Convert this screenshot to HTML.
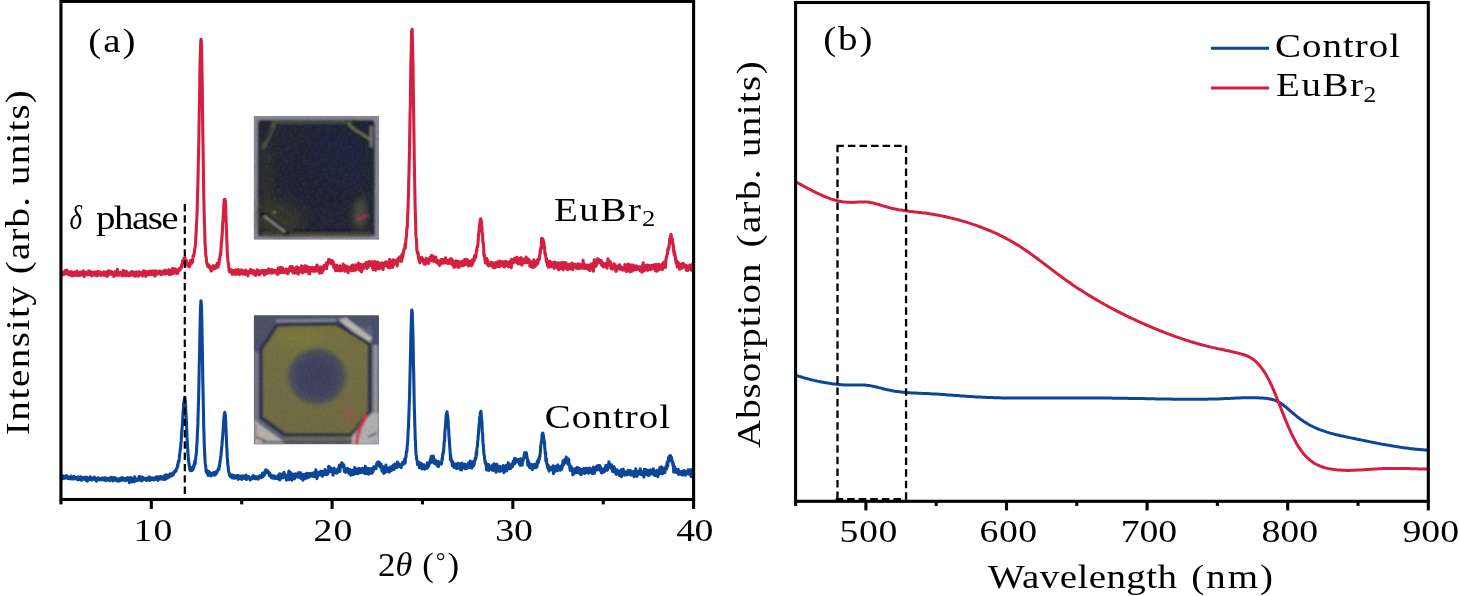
<!DOCTYPE html>
<html lang="en">
<head>
<meta charset="utf-8">
<title>XRD patterns and absorption spectra: Control vs EuBr2</title>
<style>
html,body{margin:0;padding:0;background:#fff;}
body{width:1459px;height:596px;overflow:hidden;font-family:"Liberation Serif", serif;}
svg{display:block;}
svg text{white-space:pre;}
</style>
</head>
<body>
<svg width="1459" height="596" viewBox="0 0 1459 596">
<rect width="1459" height="596" fill="#fff"/>
<g id="gfx">
<defs>
<filter id="b1" x="-5%" y="-5%" width="110%" height="110%"><feGaussianBlur stdDeviation="0.9"/></filter>
<filter id="b3" x="-100%" y="-100%" width="300%" height="300%"><feGaussianBlur stdDeviation="3"/></filter>
<filter id="b6" x="-100%" y="-100%" width="300%" height="300%"><feGaussianBlur stdDeviation="6"/></filter>
<filter id="grain" x="0" y="0" width="100%" height="100%">
<feTurbulence type="fractalNoise" baseFrequency="0.55" numOctaves="2" seed="4" result="n"/>
<feColorMatrix in="n" type="matrix" values="0 0 0 0 0.45  0 0 0 0 0.44  0 0 0 0 0.52  0.9 0 0 0 -0.25"/>
<feComposite in2="SourceGraphic" operator="in"/>
</filter>
<filter id="grain2" x="0" y="0" width="100%" height="100%">
<feTurbulence type="fractalNoise" baseFrequency="0.35" numOctaves="3" seed="9" result="n"/>
<feColorMatrix in="n" type="matrix" values="0 0 0 0 0.5  0 0 0 0 0.5  0 0 0 0 0.55  1.6 0 0 0 -0.62"/>
<feComposite in2="SourceGraphic" operator="in"/>
</filter>
<filter id="grain3" x="0" y="0" width="100%" height="100%">
<feTurbulence type="fractalNoise" baseFrequency="0.3" numOctaves="3" seed="21" result="n"/>
<feColorMatrix in="n" type="matrix" values="0 0 0 0 0.08  0 0 0 0 0.08  0 0 0 0 0.12  0 1.6 0 0 -0.62"/>
<feComposite in2="SourceGraphic" operator="in"/>
</filter>
<clipPath id="cp1"><rect x="253.6" y="116" width="125.6" height="123.8"/></clipPath>
<clipPath id="cp2"><rect x="253.8" y="315.2" width="125.2" height="129.2"/></clipPath>
<radialGradient id="blob" cx="0.5" cy="0.5" r="0.5">
<stop offset="0" stop-color="#3a3c58"/><stop offset="0.66" stop-color="#414360"/><stop offset="0.9" stop-color="#4a4d58" stop-opacity="0.85"/><stop offset="1" stop-color="#6a6a48" stop-opacity="0"/>
</radialGradient>
<linearGradient id="olv" x1="0" y1="0" x2="0" y2="1">
<stop offset="0" stop-color="#74733d"/><stop offset="0.55" stop-color="#706d45"/><stop offset="1" stop-color="#6f6b3e"/>
</linearGradient>
</defs>
<g id="photo1" clip-path="url(#cp1)">
<rect x="253.6" y="116" width="125.6" height="123.8" fill="#85838f"/>
<rect x="253.6" y="116" width="125.6" height="123.8" fill="#000" filter="url(#grain)" opacity="0.55"/>
<g filter="url(#b1)">
<rect x="258.2" y="120.2" width="116.2" height="116" rx="3" fill="#1e2029"/>
<rect x="260.5" y="122.5" width="111.5" height="111.5" rx="4" fill="#212431"/>
<ellipse cx="338" cy="160" rx="30" ry="34" fill="#1d2340" opacity="0.65" filter="url(#b6)"/>
<ellipse cx="282" cy="216" rx="24" ry="18" fill="#3e3c29" opacity="0.7" filter="url(#b6)"/>
<rect x="262" y="150" width="11" height="80" fill="#37382b" opacity="0.55" filter="url(#b3)"/>
<ellipse cx="305" cy="185" rx="28" ry="30" fill="#1c2032" opacity="0.5" filter="url(#b6)"/>
<ellipse cx="359.5" cy="215" rx="7" ry="14" fill="#53533a" opacity="0.8" filter="url(#b3)"/>
<ellipse cx="362" cy="202" rx="3.5" ry="8" fill="#5a5b48" opacity="0.5" filter="url(#b3)"/>
<line x1="357.5" y1="219.2" x2="367.2" y2="215.2" stroke="#b9304c" stroke-width="1.9" stroke-linecap="round"/>
<rect x="262" y="232.2" width="110" height="3.8" fill="#424232"/>
<line x1="292" y1="230.6" x2="351" y2="230.6" stroke="#0f121b" stroke-width="1.6"/>
<line x1="263" y1="214.5" x2="287" y2="233" stroke="#12151d" stroke-width="4.8" stroke-linecap="round"/>
<line x1="264.5" y1="216.6" x2="284.5" y2="231.6" stroke="#979c96" stroke-width="1.9" stroke-linecap="round"/>
<circle cx="274.3" cy="212.2" r="1.3" fill="#8a7a5a"/>
<line x1="272" y1="122.6" x2="352" y2="122.6" stroke="#50553f" stroke-width="2"/>
<line x1="263.6" y1="147" x2="273.8" y2="124.5" stroke="#4c523f" stroke-width="4.4" stroke-linecap="round"/>
<line x1="265.2" y1="141" x2="271.8" y2="127.5" stroke="#171c22" stroke-width="1.6" stroke-linecap="round"/>
<polyline points="348.5,124.2 355.5,130.2 361.5,133.6 366.5,137 369.5,139" fill="none" stroke="#747646" stroke-width="2.2" stroke-linecap="round" stroke-linejoin="round"/>
<ellipse cx="361.2" cy="128.6" rx="3" ry="2" fill="#18203a"/>
<line x1="371.2" y1="127" x2="371.2" y2="146" stroke="#7c7d78" stroke-width="2.4" stroke-linecap="round"/>
</g>
<rect x="253.6" y="116" width="125.6" height="123.8" fill="#000" filter="url(#grain2)" opacity="0.10"/>
<rect x="253.6" y="116" width="125.6" height="123.8" fill="#000" filter="url(#grain3)" opacity="0.14"/>
</g>
<g id="photo2" clip-path="url(#cp2)">
<rect x="253.8" y="315.2" width="125.2" height="129.2" fill="#5f6178"/>
<g filter="url(#b1)">
<rect x="253.8" y="315.2" width="125.2" height="12" fill="#4e5168"/>
<polygon points="253.8,315.2 282,315.2 259.5,352 253.8,352" fill="#4b4f66"/>
<rect x="254.4" y="352" width="3.8" height="70" fill="#74778c"/>
<rect x="372" y="318" width="7" height="28" fill="#474c6e"/>
<rect x="373.4" y="345" width="4.4" height="70" fill="#96969e"/>
<polygon points="276,319.4 336,319 336,322.4 276,322.8" fill="#83859a"/>
<polygon points="338.5,319.6 346,317.8 372,337.5 369,344.5" fill="#bab8b3"/>
<polygon points="254.2,420 284,441.5 284,444.4 254.2,444.4" fill="#b4b2ab"/>
<polygon points="371.5,413 379,413 379,444.4 351,444.4 351.5,437" fill="#b3b0b2"/>
<rect x="284" y="436.3" width="68" height="5" fill="#6c6b54"/>
<line x1="262" y1="442" x2="352" y2="442" stroke="#3a3d55" stroke-width="1.6"/>
<polygon points="261,349 277.5,324.6 336.5,323.6 369.6,344 369.6,411.6 350.8,434.7 284.7,434.7 261,417.4" fill="url(#olv)" stroke="#2c2e44" stroke-width="3.6" stroke-linejoin="round"/>
<ellipse cx="300" cy="338" rx="22" ry="9" fill="#838035" opacity="0.45" filter="url(#b3)"/>
<ellipse cx="345" cy="425" rx="16" ry="7" fill="#6f6c40" opacity="0.6" filter="url(#b3)"/>
<ellipse cx="317" cy="376.6" rx="31" ry="30" fill="url(#blob)" filter="url(#b1)"/>
<ellipse cx="349.5" cy="414" rx="4.5" ry="9" fill="#b8475a" opacity="0.45" filter="url(#b3)"/>
<polyline points="366.2,415.5 360.5,427 357.5,436 356.6,443.5" fill="none" stroke="#c93350" stroke-width="3.4" stroke-linecap="round" stroke-linejoin="round"/>
<line x1="255.5" y1="424" x2="256.5" y2="440" stroke="#c03a55" stroke-width="1.2" opacity="0.7"/>
<line x1="368" y1="437" x2="377" y2="433" stroke="#3c4060" stroke-width="1.4"/>
<line x1="256" y1="437" x2="266" y2="441" stroke="#4a4d60" stroke-width="1.4"/>
</g>
<rect x="253.8" y="315.2" width="125.2" height="129.2" fill="#000" filter="url(#grain2)" opacity="0.09"/>
<rect x="253.8" y="315.2" width="125.2" height="129.2" fill="#000" filter="url(#grain3)" opacity="0.12"/>
</g>

<g fill="none" stroke-linejoin="round" stroke-linecap="butt">
<polyline id="xrd-red" stroke="#d41f40" stroke-width="3.1" points="61.0,273.5 61.2,273.7 61.4,273.0 61.6,272.1 61.9,272.6 62.1,272.0 62.3,273.3 62.5,275.1 62.8,272.9 63.0,272.5 63.2,273.9 63.4,273.9 63.7,273.6 63.9,272.2 64.1,273.2 64.3,274.3 64.6,271.7 64.8,272.6 65.0,270.8 65.2,271.4 65.5,270.8 65.7,272.8 65.9,271.7 66.1,273.6 66.4,273.7 66.6,273.2 66.8,270.1 67.1,272.4 67.3,273.3 67.5,273.6 67.7,271.5 68.0,272.6 68.2,272.1 68.4,272.3 68.6,274.7 68.9,272.6 69.1,273.3 69.3,274.6 69.5,272.8 69.8,273.2 70.0,273.6 70.2,273.6 70.4,271.9 70.7,273.4 70.9,275.3 71.1,271.7 71.3,274.4 71.6,273.8 71.8,272.7 72.0,276.0 72.2,274.8 72.5,272.1 72.7,273.4 72.9,274.3 73.2,273.4 73.4,274.4 73.6,273.5 73.8,274.4 74.1,275.5 74.3,272.9 74.5,273.7 74.7,273.0 75.0,273.7 75.2,272.0 75.4,272.6 75.6,273.2 75.9,274.7 76.1,275.2 76.3,272.0 76.5,272.3 76.8,274.3 77.0,271.1 77.2,272.7 77.4,273.4 77.7,275.2 77.9,274.7 78.1,273.3 78.3,273.1 78.6,273.2 78.8,275.6 79.0,273.3 79.3,273.2 79.5,274.0 79.7,273.5 79.9,273.3 80.2,272.1 80.4,273.5 80.6,273.1 80.8,275.1 81.1,274.7 81.3,273.7 81.5,274.5 81.7,273.3 82.0,275.0 82.2,273.8 82.4,274.4 82.6,272.1 82.9,273.9 83.1,271.5 83.3,270.8 83.5,273.0 83.8,272.5 84.0,273.8 84.2,276.6 84.4,272.9 84.7,272.7 84.9,273.9 85.1,274.4 85.4,273.5 85.6,273.4 85.8,274.6 86.0,274.5 86.3,272.4 86.5,273.4 86.7,273.7 86.9,272.3 87.2,273.9 87.4,272.6 87.6,274.9 87.8,274.1 88.1,273.9 88.3,273.0 88.5,273.5 88.7,271.1 89.0,272.0 89.2,274.0 89.4,271.0 89.6,274.5 89.9,271.6 90.1,274.5 90.3,272.7 90.5,274.6 90.8,274.0 91.0,271.8 91.2,275.2 91.5,275.8 91.7,273.9 91.9,273.4 92.1,273.5 92.4,272.5 92.6,275.0 92.8,273.2 93.0,273.6 93.3,272.7 93.5,272.8 93.7,272.0 93.9,275.2 94.2,273.7 94.4,275.0 94.6,273.9 94.8,272.9 95.1,273.2 95.3,273.0 95.5,273.7 95.7,273.3 96.0,273.3 96.2,271.9 96.4,272.5 96.6,275.8 96.9,273.1 97.1,272.3 97.3,274.1 97.6,275.7 97.8,272.1 98.0,273.3 98.2,272.9 98.5,271.4 98.7,274.5 98.9,273.9 99.1,273.9 99.4,272.8 99.6,274.3 99.8,273.2 100.0,273.5 100.3,272.3 100.5,272.1 100.7,275.4 100.9,273.3 101.2,274.1 101.4,273.8 101.6,273.2 101.8,273.1 102.1,274.6 102.3,273.5 102.5,273.6 102.8,273.8 103.0,275.3 103.2,274.9 103.4,274.4 103.7,273.1 103.9,271.9 104.1,274.8 104.3,275.2 104.6,273.8 104.8,274.5 105.0,274.9 105.2,275.0 105.5,275.1 105.7,273.4 105.9,275.7 106.1,272.4 106.4,274.8 106.6,274.6 106.8,275.0 107.0,276.4 107.3,276.0 107.5,272.5 107.7,271.4 107.9,274.6 108.2,272.6 108.4,273.7 108.6,274.9 108.9,271.8 109.1,270.8 109.3,273.8 109.5,273.9 109.8,273.5 110.0,273.8 110.2,272.7 110.4,271.7 110.7,273.4 110.9,272.5 111.1,271.5 111.3,274.2 111.6,273.8 111.8,274.3 112.0,272.6 112.2,272.8 112.5,272.4 112.7,272.5 112.9,273.9 113.1,272.8 113.4,274.2 113.6,274.3 113.8,276.5 114.0,272.3 114.3,274.8 114.5,273.8 114.7,273.8 115.0,271.9 115.2,273.0 115.4,274.7 115.6,273.8 115.9,273.9 116.1,273.4 116.3,275.3 116.5,273.9 116.8,270.9 117.0,272.6 117.2,271.1 117.4,269.3 117.7,272.6 117.9,275.4 118.1,274.0 118.3,272.3 118.6,272.4 118.8,275.1 119.0,274.1 119.2,273.9 119.5,273.7 119.7,273.8 119.9,274.8 120.1,274.6 120.4,274.1 120.6,272.4 120.8,274.3 121.1,272.9 121.3,275.1 121.5,272.3 121.7,273.4 122.0,273.7 122.2,272.0 122.4,275.8 122.6,275.9 122.9,273.4 123.1,274.7 123.3,274.3 123.5,270.4 123.8,273.7 124.0,273.7 124.2,273.8 124.4,272.3 124.7,273.2 124.9,273.5 125.1,275.2 125.3,274.3 125.6,273.8 125.8,275.7 126.0,273.2 126.2,273.1 126.5,271.3 126.7,275.5 126.9,275.2 127.2,275.0 127.4,274.7 127.6,273.9 127.8,274.0 128.1,273.4 128.3,273.4 128.5,273.7 128.7,275.7 129.0,274.6 129.2,273.7 129.4,272.9 129.6,272.8 129.9,275.7 130.1,274.6 130.3,273.8 130.5,273.2 130.8,272.2 131.0,273.4 131.2,274.8 131.4,273.3 131.7,273.3 131.9,273.3 132.1,273.7 132.3,271.6 132.6,273.1 132.8,272.5 133.0,274.6 133.3,272.7 133.5,274.3 133.7,275.7 133.9,273.4 134.2,272.8 134.4,273.8 134.6,273.6 134.8,272.3 135.1,274.0 135.3,276.3 135.5,273.5 135.7,273.3 136.0,272.2 136.2,273.8 136.4,272.0 136.6,271.9 136.9,275.1 137.1,272.6 137.3,274.8 137.5,275.7 137.8,274.1 138.0,274.3 138.2,276.2 138.4,273.5 138.7,272.7 138.9,271.7 139.1,273.4 139.4,275.4 139.6,275.0 139.8,272.4 140.0,272.2 140.3,272.7 140.5,273.8 140.7,273.3 140.9,273.7 141.2,273.9 141.4,273.1 141.6,273.4 141.8,273.7 142.1,273.4 142.3,274.1 142.5,276.0 142.7,274.5 143.0,273.6 143.2,271.2 143.4,273.7 143.6,270.9 143.9,271.3 144.1,274.3 144.3,274.4 144.6,273.3 144.8,271.1 145.0,272.6 145.2,272.4 145.5,274.1 145.7,276.4 145.9,274.0 146.1,272.4 146.4,271.7 146.6,273.1 146.8,273.1 147.0,271.8 147.3,273.3 147.5,271.8 147.7,274.6 147.9,274.9 148.2,274.9 148.4,272.8 148.6,273.9 148.8,273.2 149.1,272.7 149.3,272.8 149.5,271.5 149.7,271.2 150.0,274.1 150.2,273.1 150.4,273.5 150.7,274.6 150.9,271.1 151.1,271.9 151.3,273.3 151.6,273.7 151.8,272.8 152.0,274.5 152.2,273.6 152.5,271.6 152.7,271.8 152.9,274.1 153.1,273.9 153.4,270.7 153.6,274.6 153.8,274.1 154.0,275.0 154.3,272.8 154.5,272.7 154.7,271.6 154.9,276.2 155.2,273.2 155.4,275.1 155.6,272.5 155.8,273.2 156.1,270.9 156.3,272.3 156.5,274.3 156.8,271.5 157.0,274.2 157.2,273.6 157.4,271.7 157.7,272.2 157.9,272.3 158.1,272.8 158.3,272.3 158.6,271.8 158.8,272.4 159.0,271.5 159.2,271.1 159.5,272.7 159.7,274.0 159.9,271.0 160.1,272.7 160.4,272.0 160.6,271.5 160.8,273.8 161.0,272.3 161.3,274.7 161.5,272.0 161.7,273.2 161.9,272.5 162.2,271.8 162.4,273.4 162.6,272.6 162.9,273.5 163.1,272.8 163.3,271.3 163.5,272.4 163.8,272.7 164.0,273.9 164.2,271.6 164.4,272.5 164.7,270.4 164.9,273.2 165.1,271.3 165.3,270.1 165.6,272.2 165.8,274.0 166.0,270.7 166.2,270.9 166.5,271.4 166.7,270.9 166.9,272.8 167.1,271.5 167.4,271.4 167.6,273.1 167.8,271.5 168.0,272.9 168.3,271.2 168.5,270.6 168.7,269.8 169.0,274.5 169.2,272.2 169.4,272.6 169.6,272.3 169.9,272.4 170.1,272.3 170.3,274.7 170.5,271.1 170.8,270.0 171.0,270.6 171.2,270.2 171.4,272.9 171.7,273.2 171.9,270.9 172.1,270.0 172.3,271.3 172.6,273.7 172.8,268.4 173.0,272.2 173.2,270.5 173.5,273.0 173.7,270.5 173.9,271.2 174.1,269.7 174.4,270.2 174.6,273.3 174.8,272.9 175.1,271.1 175.3,270.3 175.5,268.9 175.7,270.6 176.0,271.3 176.2,271.2 176.4,271.1 176.6,269.7 176.9,270.9 177.1,271.0 177.3,272.7 177.5,273.6 177.8,271.0 178.0,269.8 178.2,270.5 178.4,269.8 178.7,269.5 178.9,270.2 179.1,268.9 179.3,270.8 179.6,270.0 179.8,270.1 180.0,269.4 180.2,268.4 180.5,267.7 180.7,268.3 180.9,267.6 181.2,268.2 181.4,267.5 181.6,265.1 181.8,266.2 182.1,263.9 182.3,263.9 182.5,263.7 182.7,260.6 183.0,262.4 183.2,262.0 183.4,260.9 183.6,259.8 183.9,259.2 184.1,258.0 184.3,258.6 184.5,258.2 184.8,259.1 185.0,257.7 185.2,259.8 185.4,260.3 185.7,260.5 185.9,260.7 186.1,262.5 186.4,260.4 186.6,263.4 186.8,264.0 187.0,264.5 187.3,265.0 187.5,264.0 187.7,264.6 187.9,266.1 188.2,266.1 188.4,265.8 188.6,263.5 188.8,265.9 189.1,266.9 189.3,266.7 189.5,265.5 189.7,262.8 190.0,265.5 190.2,264.2 190.4,260.6 190.6,263.7 190.9,261.3 191.1,260.9 191.3,261.4 191.5,263.5 191.8,261.1 192.0,261.2 192.2,262.6 192.5,262.0 192.7,259.1 192.9,258.0 193.1,255.8 193.4,255.6 193.6,256.2 193.8,255.3 194.0,253.7 194.3,253.6 194.5,250.0 194.7,249.1 194.9,248.4 195.2,246.3 195.4,244.6 195.6,241.2 195.8,237.2 196.1,234.5 196.3,229.0 196.5,223.5 196.7,221.3 197.0,215.1 197.2,209.1 197.4,199.4 197.6,192.8 197.9,183.9 198.1,173.7 198.3,161.3 198.6,152.1 198.8,141.7 199.0,128.3 199.2,113.5 199.5,100.5 199.7,88.1 199.9,70.6 200.1,61.7 200.4,52.8 200.6,45.2 200.8,41.6 201.0,39.3 201.3,40.2 201.5,46.2 201.7,56.4 201.9,67.3 202.2,82.4 202.4,99.7 202.6,118.0 202.8,132.2 203.1,148.5 203.3,164.5 203.5,180.6 203.7,192.4 204.0,206.1 204.2,213.7 204.4,223.5 204.7,231.4 204.9,239.3 205.1,245.2 205.3,246.4 205.6,250.4 205.8,255.1 206.0,256.3 206.2,256.9 206.5,261.6 206.7,262.5 206.9,263.4 207.1,262.9 207.4,265.4 207.6,264.5 207.8,266.5 208.0,264.5 208.3,264.6 208.5,266.3 208.7,265.5 208.9,267.4 209.2,267.3 209.4,265.9 209.6,267.2 209.8,266.9 210.1,268.7 210.3,266.9 210.5,267.1 210.8,269.4 211.0,271.0 211.2,270.9 211.4,268.4 211.7,268.4 211.9,270.1 212.1,268.2 212.3,266.8 212.6,268.1 212.8,268.7 213.0,267.1 213.2,265.8 213.5,265.9 213.7,268.6 213.9,267.0 214.1,267.5 214.4,268.0 214.6,268.5 214.8,267.2 215.0,268.0 215.3,266.2 215.5,266.5 215.7,265.6 215.9,268.1 216.2,266.7 216.4,265.4 216.6,265.5 216.9,265.5 217.1,266.4 217.3,263.2 217.5,263.2 217.8,263.7 218.0,267.2 218.2,265.0 218.4,262.8 218.7,263.1 218.9,264.2 219.1,260.6 219.3,259.1 219.6,260.1 219.8,258.2 220.0,257.0 220.2,254.0 220.5,255.4 220.7,253.6 220.9,250.1 221.1,247.8 221.4,241.8 221.6,242.2 221.8,238.6 222.0,236.2 222.3,233.2 222.5,228.3 222.7,222.7 223.0,221.3 223.2,216.3 223.4,212.8 223.6,208.7 223.9,205.6 224.1,200.0 224.3,201.8 224.5,199.3 224.8,199.3 225.0,200.6 225.2,200.0 225.4,201.0 225.7,206.9 225.9,212.7 226.1,220.1 226.3,227.6 226.6,231.4 226.8,240.3 227.0,243.7 227.2,250.6 227.5,254.5 227.7,257.6 227.9,260.7 228.2,262.4 228.4,264.1 228.6,264.1 228.8,267.2 229.1,270.7 229.3,271.7 229.5,271.4 229.7,270.9 230.0,269.3 230.2,272.1 230.4,270.7 230.6,270.6 230.9,270.5 231.1,271.1 231.3,270.6 231.5,271.1 231.8,269.9 232.0,270.8 232.2,274.4 232.4,271.8 232.7,271.3 232.9,272.4 233.1,272.8 233.3,270.5 233.6,271.5 233.8,273.1 234.0,272.5 234.3,272.2 234.5,274.1 234.7,271.4 234.9,272.1 235.2,271.5 235.4,274.1 235.6,269.9 235.8,271.1 236.1,271.5 236.3,273.1 236.5,273.2 236.7,274.2 237.0,270.5 237.2,273.1 237.4,272.1 237.6,271.5 237.9,273.0 238.1,271.3 238.3,269.6 238.5,271.7 238.8,270.5 239.0,271.4 239.2,272.9 239.4,273.0 239.7,274.6 239.9,272.5 240.1,270.5 240.4,271.3 240.6,271.2 240.8,270.8 241.0,272.9 241.3,271.8 241.5,269.9 241.7,273.2 241.9,272.5 242.2,273.0 242.4,272.7 242.6,273.4 242.8,272.7 243.1,274.2 243.3,273.3 243.5,273.1 243.7,273.1 244.0,270.7 244.2,272.1 244.4,272.2 244.6,272.8 244.9,270.8 245.1,274.5 245.3,272.9 245.5,271.0 245.8,270.1 246.0,271.9 246.2,272.4 246.5,271.6 246.7,272.5 246.9,271.7 247.1,273.1 247.4,271.6 247.6,272.3 247.8,273.8 248.0,276.0 248.3,271.5 248.5,271.7 248.7,271.3 248.9,273.4 249.2,271.1 249.4,271.7 249.6,272.3 249.8,271.2 250.1,271.0 250.3,271.7 250.5,269.6 250.7,270.2 251.0,271.7 251.2,272.5 251.4,272.2 251.6,270.0 251.9,271.5 252.1,273.3 252.3,273.2 252.6,272.3 252.8,271.2 253.0,273.0 253.2,271.7 253.5,270.7 253.7,271.1 253.9,274.1 254.1,272.8 254.4,273.8 254.6,271.8 254.8,273.4 255.0,271.6 255.3,272.0 255.5,275.5 255.7,273.6 255.9,271.7 256.2,272.0 256.4,272.6 256.6,273.8 256.8,271.7 257.1,269.8 257.3,271.5 257.5,272.1 257.7,272.3 258.0,273.9 258.2,272.7 258.4,273.2 258.7,270.8 258.9,273.1 259.1,274.9 259.3,273.4 259.6,272.5 259.8,272.3 260.0,274.4 260.2,271.1 260.5,271.7 260.7,272.6 260.9,273.0 261.1,271.5 261.4,272.3 261.6,271.6 261.8,272.0 262.0,271.8 262.3,270.4 262.5,271.7 262.7,273.0 262.9,270.7 263.2,271.4 263.4,272.7 263.6,270.5 263.8,271.9 264.1,270.5 264.3,273.1 264.5,275.0 264.8,274.7 265.0,271.8 265.2,272.7 265.4,272.0 265.7,271.9 265.9,273.7 266.1,270.2 266.3,272.9 266.6,271.8 266.8,273.5 267.0,272.1 267.2,270.8 267.5,271.9 267.7,272.6 267.9,271.7 268.1,272.2 268.4,271.0 268.6,268.7 268.8,272.4 269.0,272.6 269.3,271.8 269.5,271.6 269.7,272.8 270.0,271.0 270.2,270.5 270.4,271.1 270.6,273.0 270.9,269.8 271.1,272.8 271.3,270.7 271.5,269.9 271.8,272.9 272.0,271.4 272.2,269.6 272.4,270.7 272.7,272.5 272.9,273.0 273.1,270.9 273.3,271.7 273.6,272.2 273.8,270.5 274.0,271.6 274.2,271.2 274.5,270.5 274.7,270.5 274.9,271.2 275.1,271.2 275.4,270.4 275.6,270.5 275.8,272.5 276.1,271.5 276.3,272.3 276.5,272.8 276.7,272.0 277.0,274.1 277.2,270.3 277.4,272.0 277.6,270.7 277.9,274.1 278.1,274.2 278.3,268.0 278.5,268.9 278.8,271.9 279.0,272.4 279.2,272.3 279.4,270.9 279.7,271.7 279.9,272.1 280.1,270.9 280.3,272.6 280.6,267.2 280.8,271.5 281.0,269.2 281.2,272.2 281.5,270.6 281.7,269.2 281.9,271.2 282.2,269.3 282.4,269.0 282.6,267.9 282.8,270.4 283.1,271.5 283.3,272.5 283.5,270.6 283.7,272.4 284.0,270.9 284.2,270.5 284.4,271.6 284.6,272.5 284.9,270.2 285.1,270.1 285.3,270.2 285.5,270.7 285.8,269.0 286.0,272.1 286.2,270.0 286.4,271.2 286.7,269.2 286.9,270.9 287.1,271.2 287.3,269.8 287.6,273.8 287.8,271.5 288.0,273.5 288.3,272.4 288.5,269.4 288.7,269.6 288.9,271.0 289.2,270.6 289.4,270.4 289.6,269.9 289.8,267.2 290.1,269.6 290.3,266.5 290.5,270.5 290.7,269.1 291.0,268.9 291.2,269.7 291.4,270.7 291.6,267.8 291.9,267.0 292.1,268.1 292.3,266.5 292.5,268.2 292.8,272.7 293.0,268.7 293.2,271.1 293.4,267.9 293.7,270.4 293.9,269.6 294.1,270.0 294.4,271.1 294.6,273.2 294.8,270.8 295.0,270.3 295.3,268.4 295.5,270.9 295.7,269.7 295.9,271.4 296.2,270.1 296.4,273.0 296.6,266.9 296.8,269.1 297.1,271.4 297.3,269.5 297.5,268.5 297.7,269.4 298.0,267.5 298.2,269.9 298.4,274.1 298.6,272.3 298.9,268.2 299.1,268.2 299.3,269.0 299.5,271.5 299.8,268.7 300.0,268.5 300.2,271.2 300.5,271.5 300.7,269.4 300.9,267.8 301.1,267.0 301.4,268.3 301.6,265.9 301.8,270.6 302.0,268.8 302.3,270.5 302.5,273.0 302.7,272.1 302.9,268.0 303.2,271.0 303.4,271.9 303.6,268.7 303.8,267.9 304.1,269.3 304.3,266.9 304.5,271.9 304.7,265.8 305.0,267.3 305.2,269.0 305.4,269.2 305.6,269.9 305.9,270.1 306.1,269.3 306.3,271.5 306.6,266.1 306.8,269.2 307.0,268.4 307.2,269.7 307.5,270.0 307.7,268.0 307.9,268.3 308.1,270.8 308.4,270.3 308.6,268.4 308.8,272.9 309.0,273.8 309.3,267.4 309.5,269.7 309.7,273.8 309.9,271.3 310.2,270.0 310.4,269.1 310.6,268.5 310.8,268.9 311.1,268.4 311.3,270.6 311.5,268.8 311.8,268.5 312.0,267.2 312.2,269.0 312.4,267.8 312.7,268.9 312.9,271.1 313.1,270.1 313.3,270.2 313.6,270.0 313.8,269.4 314.0,269.1 314.2,268.7 314.5,270.5 314.7,267.5 314.9,271.3 315.1,269.5 315.4,267.9 315.6,268.2 315.8,267.9 316.0,269.3 316.3,268.0 316.5,271.0 316.7,268.0 316.9,265.1 317.2,267.4 317.4,265.5 317.6,268.6 317.9,270.9 318.1,270.4 318.3,266.9 318.5,267.5 318.8,271.9 319.0,269.9 319.2,269.0 319.4,270.8 319.7,273.3 319.9,271.6 320.1,269.4 320.3,269.5 320.6,270.0 320.8,267.9 321.0,266.9 321.2,268.7 321.5,267.2 321.7,268.5 321.9,268.9 322.1,272.7 322.4,267.6 322.6,268.2 322.8,268.3 323.0,269.2 323.3,270.4 323.5,267.8 323.7,266.9 324.0,265.3 324.2,266.3 324.4,268.8 324.6,268.2 324.9,266.1 325.1,266.9 325.3,267.5 325.5,268.2 325.8,266.2 326.0,266.3 326.2,263.5 326.4,264.0 326.7,268.6 326.9,262.3 327.1,264.3 327.3,265.3 327.6,264.0 327.8,262.7 328.0,263.5 328.2,263.3 328.5,262.7 328.7,259.2 328.9,261.5 329.1,260.2 329.4,260.3 329.6,261.4 329.8,262.1 330.1,262.5 330.3,260.1 330.5,262.3 330.7,263.1 331.0,263.2 331.2,263.9 331.4,261.6 331.6,261.6 331.9,263.6 332.1,260.5 332.3,263.2 332.5,262.6 332.8,263.2 333.0,261.3 333.2,262.9 333.4,264.9 333.7,267.0 333.9,267.7 334.1,266.2 334.3,266.1 334.6,265.3 334.8,267.5 335.0,266.8 335.2,268.3 335.5,270.6 335.7,267.9 335.9,265.2 336.2,266.1 336.4,265.3 336.6,265.7 336.8,270.1 337.1,268.8 337.3,265.6 337.5,269.0 337.7,270.5 338.0,267.9 338.2,267.0 338.4,267.5 338.6,268.7 338.9,269.4 339.1,270.4 339.3,270.6 339.5,270.5 339.8,270.8 340.0,269.6 340.2,265.8 340.4,267.7 340.7,268.7 340.9,267.6 341.1,269.7 341.3,267.8 341.6,266.6 341.8,270.5 342.0,269.6 342.3,268.7 342.5,269.8 342.7,270.2 342.9,269.0 343.2,264.0 343.4,266.5 343.6,267.2 343.8,266.4 344.1,268.3 344.3,270.2 344.5,267.5 344.7,266.1 345.0,271.3 345.2,267.7 345.4,265.9 345.6,268.2 345.9,268.8 346.1,266.9 346.3,269.2 346.5,267.3 346.8,266.3 347.0,268.1 347.2,269.3 347.5,267.0 347.7,268.4 347.9,267.9 348.1,272.8 348.4,267.3 348.6,270.2 348.8,268.1 349.0,267.7 349.3,269.1 349.5,269.5 349.7,270.2 349.9,268.7 350.2,266.9 350.4,266.8 350.6,268.6 350.8,268.9 351.1,270.3 351.3,268.8 351.5,269.7 351.7,270.6 352.0,268.3 352.2,265.2 352.4,265.4 352.6,265.0 352.9,270.2 353.1,266.5 353.3,269.6 353.6,268.9 353.8,270.7 354.0,269.7 354.2,267.6 354.5,267.2 354.7,267.7 354.9,267.9 355.1,266.7 355.4,267.4 355.6,270.3 355.8,264.9 356.0,267.6 356.3,266.0 356.5,267.6 356.7,268.9 356.9,267.5 357.2,268.7 357.4,264.8 357.6,269.0 357.8,266.6 358.1,268.3 358.3,267.8 358.5,263.0 358.7,265.5 359.0,267.5 359.2,270.0 359.4,268.1 359.7,267.8 359.9,264.9 360.1,269.4 360.3,270.6 360.6,267.6 360.8,266.8 361.0,264.3 361.2,268.3 361.5,271.9 361.7,268.8 361.9,269.4 362.1,268.2 362.4,265.4 362.6,269.1 362.8,265.1 363.0,266.3 363.3,267.3 363.5,268.4 363.7,267.7 363.9,267.5 364.2,265.4 364.4,264.2 364.6,266.4 364.8,265.2 365.1,264.0 365.3,263.8 365.5,265.0 365.8,262.7 366.0,263.2 366.2,262.7 366.4,265.6 366.7,266.2 366.9,268.8 367.1,262.9 367.3,263.5 367.6,266.2 367.8,264.5 368.0,263.9 368.2,267.3 368.5,264.0 368.7,262.2 368.9,261.7 369.1,264.4 369.4,264.7 369.6,261.8 369.8,262.2 370.0,265.0 370.3,265.4 370.5,263.4 370.7,265.5 370.9,265.7 371.2,261.8 371.4,264.0 371.6,265.7 371.9,264.2 372.1,261.5 372.3,264.5 372.5,266.7 372.8,268.4 373.0,262.2 373.2,269.8 373.4,264.3 373.7,267.3 373.9,268.2 374.1,267.8 374.3,266.4 374.6,264.0 374.8,266.8 375.0,264.9 375.2,261.5 375.5,270.3 375.7,267.7 375.9,269.2 376.1,264.7 376.4,268.3 376.6,268.9 376.8,268.8 377.0,266.1 377.3,263.8 377.5,265.3 377.7,262.0 378.0,262.5 378.2,265.6 378.4,264.1 378.6,265.2 378.9,265.5 379.1,268.9 379.3,268.2 379.5,265.8 379.8,267.7 380.0,264.5 380.2,264.8 380.4,267.0 380.7,263.5 380.9,264.8 381.1,263.1 381.3,265.4 381.6,268.2 381.8,264.4 382.0,265.6 382.2,263.8 382.5,263.1 382.7,262.9 382.9,267.5 383.1,269.5 383.4,266.4 383.6,264.0 383.8,266.2 384.1,264.6 384.3,266.3 384.5,265.6 384.7,265.5 385.0,266.0 385.2,264.0 385.4,264.1 385.6,261.8 385.9,263.7 386.1,262.2 386.3,264.2 386.5,263.0 386.8,264.6 387.0,265.4 387.2,262.2 387.4,262.8 387.7,262.7 387.9,265.5 388.1,267.4 388.3,266.1 388.6,263.9 388.8,266.7 389.0,261.9 389.3,266.4 389.5,263.3 389.7,259.2 389.9,268.0 390.2,267.1 390.4,262.4 390.6,263.9 390.8,263.4 391.1,263.8 391.3,261.1 391.5,262.1 391.7,264.2 392.0,263.9 392.2,265.5 392.4,263.7 392.6,267.3 392.9,262.4 393.1,263.4 393.3,259.8 393.5,260.4 393.8,264.9 394.0,261.4 394.2,263.4 394.4,262.5 394.7,260.7 394.9,261.6 395.1,261.3 395.4,261.2 395.6,263.2 395.8,263.2 396.0,260.9 396.3,260.0 396.5,261.9 396.7,261.3 396.9,263.0 397.2,265.9 397.4,262.9 397.6,260.9 397.8,260.4 398.1,259.0 398.3,258.6 398.5,258.2 398.7,259.1 399.0,258.9 399.2,260.7 399.4,258.8 399.6,258.7 399.9,256.7 400.1,261.1 400.3,259.5 400.5,261.2 400.8,259.4 401.0,260.1 401.2,256.9 401.5,257.9 401.7,261.1 401.9,254.3 402.1,257.3 402.4,258.2 402.6,255.6 402.8,255.4 403.0,255.8 403.3,252.0 403.5,252.9 403.7,250.2 403.9,249.5 404.2,248.9 404.4,248.8 404.6,248.5 404.8,248.0 405.1,243.7 405.3,248.0 405.5,245.8 405.7,243.2 406.0,239.5 406.2,237.7 406.4,236.5 406.6,233.7 406.9,227.0 407.1,227.4 407.3,227.7 407.6,215.3 407.8,214.2 408.0,207.9 408.2,200.4 408.5,195.5 408.7,183.1 408.9,175.9 409.1,168.4 409.4,154.8 409.6,142.3 409.8,130.6 410.0,116.5 410.3,106.2 410.5,88.4 410.7,77.4 410.9,61.2 411.2,52.6 411.4,42.1 411.6,30.6 411.8,30.9 412.1,29.2 412.3,33.7 412.5,44.7 412.7,51.0 413.0,63.8 413.2,83.2 413.4,97.4 413.7,116.3 413.9,130.9 414.1,144.6 414.3,161.0 414.6,177.5 414.8,190.0 415.0,199.8 415.2,209.7 415.5,218.1 415.7,224.7 415.9,235.3 416.1,237.5 416.4,239.4 416.6,243.8 416.8,248.8 417.0,251.2 417.3,251.6 417.5,251.9 417.7,254.2 417.9,252.3 418.2,253.4 418.4,257.9 418.6,256.6 418.8,258.3 419.1,260.4 419.3,259.9 419.5,259.0 419.8,262.9 420.0,261.0 420.2,259.2 420.4,261.1 420.7,261.0 420.9,258.9 421.1,260.4 421.3,260.4 421.6,257.3 421.8,260.2 422.0,260.5 422.2,260.4 422.5,258.3 422.7,260.4 422.9,261.4 423.1,261.7 423.4,259.7 423.6,262.6 423.8,259.8 424.0,261.2 424.3,264.2 424.5,261.0 424.7,261.0 424.9,263.8 425.2,261.6 425.4,261.5 425.6,262.4 425.9,263.9 426.1,258.3 426.3,260.1 426.5,260.0 426.8,259.8 427.0,260.1 427.2,260.1 427.4,261.9 427.7,259.9 427.9,261.3 428.1,261.9 428.3,259.7 428.6,260.8 428.8,263.4 429.0,261.2 429.2,259.0 429.5,259.5 429.7,257.9 429.9,259.5 430.1,260.5 430.4,257.4 430.6,257.8 430.8,260.0 431.1,257.2 431.3,257.8 431.5,255.6 431.7,255.6 432.0,256.1 432.2,260.7 432.4,256.8 432.6,256.1 432.9,256.1 433.1,256.9 433.3,258.6 433.5,258.1 433.8,261.5 434.0,259.0 434.2,261.0 434.4,259.6 434.7,260.2 434.9,257.1 435.1,259.3 435.3,260.0 435.6,260.0 435.8,257.0 436.0,262.1 436.2,260.8 436.5,260.7 436.7,261.3 436.9,261.6 437.2,262.9 437.4,260.3 437.6,260.7 437.8,263.0 438.1,263.1 438.3,262.3 438.5,262.0 438.7,261.5 439.0,262.9 439.2,265.2 439.4,261.6 439.6,265.6 439.9,265.0 440.1,262.6 440.3,264.5 440.5,260.9 440.8,259.9 441.0,260.6 441.2,262.1 441.4,262.4 441.7,262.0 441.9,263.0 442.1,259.2 442.3,263.2 442.6,260.3 442.8,261.1 443.0,261.6 443.3,260.3 443.5,259.7 443.7,260.1 443.9,261.8 444.2,262.9 444.4,262.8 444.6,260.0 444.8,260.0 445.1,259.7 445.3,261.9 445.5,257.8 445.7,262.8 446.0,260.4 446.2,259.5 446.4,261.4 446.6,262.7 446.9,261.7 447.1,262.8 447.3,261.4 447.5,263.1 447.8,263.4 448.0,261.2 448.2,263.6 448.4,261.8 448.7,261.6 448.9,260.0 449.1,261.0 449.4,263.0 449.6,259.8 449.8,262.9 450.0,262.9 450.3,262.8 450.5,258.7 450.7,261.9 450.9,263.7 451.2,261.6 451.4,262.9 451.6,258.9 451.8,263.8 452.1,262.1 452.3,264.6 452.5,260.3 452.7,264.2 453.0,263.1 453.2,264.8 453.4,262.1 453.6,262.3 453.9,267.3 454.1,262.6 454.3,262.3 454.5,263.1 454.8,261.9 455.0,265.6 455.2,266.9 455.5,262.9 455.7,260.7 455.9,265.4 456.1,265.9 456.4,265.4 456.6,265.9 456.8,262.5 457.0,263.3 457.3,261.4 457.5,261.1 457.7,265.2 457.9,262.8 458.2,267.5 458.4,264.3 458.6,262.7 458.8,265.0 459.1,267.0 459.3,264.9 459.5,261.7 459.7,264.1 460.0,266.1 460.2,263.1 460.4,262.3 460.6,265.3 460.9,264.1 461.1,261.8 461.3,262.8 461.6,262.3 461.8,264.0 462.0,263.9 462.2,265.6 462.5,265.0 462.7,261.1 462.9,264.0 463.1,265.2 463.4,264.5 463.6,265.4 463.8,262.8 464.0,261.8 464.3,264.9 464.5,261.8 464.7,259.6 464.9,264.8 465.2,262.4 465.4,262.7 465.6,260.9 465.8,260.8 466.1,261.1 466.3,262.5 466.5,263.8 466.7,259.4 467.0,264.1 467.2,261.3 467.4,261.1 467.7,264.1 467.9,263.1 468.1,260.4 468.3,265.9 468.6,261.8 468.8,263.2 469.0,263.2 469.2,265.3 469.5,262.2 469.7,264.3 469.9,261.6 470.1,264.3 470.4,261.4 470.6,261.7 470.8,265.5 471.0,263.2 471.3,262.4 471.5,265.9 471.7,263.0 471.9,260.5 472.2,262.8 472.4,259.7 472.6,263.2 472.9,263.6 473.1,260.4 473.3,259.7 473.5,260.9 473.8,260.5 474.0,258.5 474.2,260.7 474.4,256.1 474.7,258.0 474.9,257.9 475.1,257.6 475.3,258.0 475.6,254.8 475.8,256.8 476.0,254.9 476.2,252.9 476.5,250.5 476.7,249.3 476.9,250.6 477.1,247.0 477.4,246.8 477.6,246.8 477.8,244.8 478.0,243.5 478.3,238.1 478.5,234.0 478.7,234.9 479.0,231.6 479.2,230.3 479.4,226.2 479.6,225.8 479.9,223.4 480.1,221.5 480.3,220.0 480.5,219.2 480.8,218.8 481.0,219.4 481.2,221.9 481.4,221.3 481.7,227.1 481.9,227.0 482.1,231.4 482.3,232.8 482.6,235.3 482.8,242.2 483.0,241.6 483.2,242.2 483.5,245.6 483.7,248.7 483.9,255.2 484.1,254.2 484.4,256.7 484.6,255.0 484.8,258.2 485.1,260.0 485.3,262.9 485.5,259.5 485.7,261.8 486.0,262.0 486.2,260.1 486.4,261.9 486.6,261.9 486.9,258.5 487.1,263.3 487.3,263.9 487.5,262.3 487.8,260.7 488.0,265.4 488.2,264.0 488.4,265.1 488.7,266.0 488.9,262.8 489.1,264.7 489.3,263.2 489.6,263.4 489.8,263.4 490.0,263.6 490.2,265.5 490.5,264.1 490.7,263.5 490.9,263.2 491.2,264.3 491.4,262.3 491.6,262.8 491.8,263.6 492.1,262.9 492.3,263.5 492.5,262.8 492.7,267.2 493.0,266.6 493.2,264.9 493.4,263.9 493.6,267.7 493.9,264.9 494.1,263.9 494.3,264.5 494.5,264.6 494.8,266.5 495.0,264.3 495.2,267.6 495.4,262.9 495.7,265.1 495.9,262.5 496.1,267.0 496.3,263.9 496.6,263.9 496.8,265.7 497.0,266.4 497.3,262.4 497.5,263.3 497.7,261.7 497.9,264.1 498.2,264.0 498.4,263.5 498.6,262.9 498.8,263.3 499.1,262.8 499.3,264.9 499.5,266.8 499.7,261.1 500.0,263.6 500.2,263.4 500.4,264.9 500.6,262.6 500.9,263.7 501.1,262.4 501.3,265.2 501.5,264.5 501.8,263.9 502.0,264.8 502.2,263.8 502.4,261.5 502.7,264.9 502.9,264.8 503.1,264.0 503.4,265.8 503.6,266.4 503.8,262.5 504.0,262.6 504.3,266.7 504.5,266.9 504.7,263.2 504.9,262.0 505.2,262.8 505.4,263.2 505.6,261.3 505.8,263.9 506.1,261.9 506.3,261.8 506.5,265.4 506.7,263.1 507.0,263.8 507.2,265.1 507.4,265.5 507.6,263.6 507.9,264.0 508.1,262.5 508.3,266.7 508.5,265.3 508.8,262.1 509.0,263.6 509.2,264.9 509.5,264.6 509.7,266.8 509.9,266.2 510.1,262.8 510.4,263.1 510.6,261.1 510.8,263.4 511.0,263.4 511.3,267.6 511.5,263.5 511.7,259.2 511.9,261.1 512.2,262.5 512.4,260.2 512.6,260.5 512.8,261.2 513.1,262.4 513.3,261.5 513.5,260.0 513.7,262.6 514.0,260.5 514.2,260.2 514.4,258.5 514.7,259.3 514.9,261.7 515.1,258.0 515.3,260.1 515.6,261.7 515.8,259.9 516.0,260.7 516.2,258.4 516.5,262.3 516.7,262.4 516.9,260.9 517.1,257.4 517.4,258.3 517.6,261.9 517.8,263.7 518.0,261.5 518.3,262.9 518.5,260.0 518.7,260.5 518.9,261.0 519.2,261.9 519.4,258.8 519.6,262.7 519.8,263.9 520.1,259.9 520.3,259.1 520.5,262.1 520.8,260.7 521.0,257.6 521.2,262.7 521.4,262.2 521.7,260.9 521.9,265.2 522.1,262.2 522.3,260.2 522.6,261.3 522.8,259.4 523.0,259.4 523.2,261.2 523.5,259.6 523.7,259.4 523.9,262.8 524.1,261.6 524.4,261.2 524.6,260.6 524.8,260.3 525.0,261.8 525.3,259.4 525.5,262.4 525.7,258.0 525.9,258.7 526.2,257.1 526.4,258.8 526.6,260.7 526.9,262.7 527.1,259.5 527.3,260.5 527.5,260.3 527.8,259.9 528.0,259.3 528.2,261.7 528.4,259.1 528.7,262.2 528.9,262.6 529.1,261.6 529.3,261.1 529.6,260.6 529.8,266.2 530.0,261.5 530.2,265.9 530.5,264.9 530.7,263.2 530.9,261.7 531.1,265.4 531.4,267.0 531.6,262.6 531.8,263.2 532.0,265.6 532.3,264.7 532.5,267.4 532.7,263.3 533.0,264.7 533.2,261.8 533.4,267.2 533.6,262.9 533.9,259.8 534.1,263.1 534.3,263.4 534.5,266.9 534.8,263.4 535.0,263.4 535.2,264.4 535.4,266.2 535.7,263.5 535.9,264.9 536.1,264.1 536.3,262.5 536.6,262.9 536.8,262.7 537.0,260.9 537.2,264.1 537.5,259.8 537.7,263.4 537.9,263.1 538.1,260.9 538.4,259.0 538.6,259.2 538.8,259.9 539.1,259.7 539.3,258.1 539.5,258.3 539.7,254.6 540.0,254.5 540.2,250.2 540.4,252.5 540.6,250.3 540.9,247.7 541.1,248.6 541.3,246.5 541.5,238.9 541.8,241.6 542.0,238.4 542.2,241.5 542.4,243.8 542.7,238.7 542.9,239.3 543.1,239.4 543.3,241.3 543.6,243.1 543.8,245.6 544.0,243.4 544.2,249.0 544.5,246.9 544.7,250.2 544.9,253.6 545.2,254.6 545.4,253.2 545.6,254.7 545.8,256.4 546.1,258.3 546.3,261.4 546.5,258.4 546.7,261.7 547.0,262.9 547.2,263.4 547.4,263.7 547.6,265.8 547.9,264.6 548.1,265.3 548.3,265.1 548.5,267.3 548.8,261.3 549.0,266.2 549.2,264.2 549.4,264.0 549.7,262.9 549.9,261.3 550.1,263.7 550.3,263.5 550.6,265.5 550.8,262.4 551.0,267.0 551.3,265.7 551.5,264.6 551.7,263.7 551.9,263.5 552.2,262.9 552.4,263.9 552.6,265.0 552.8,264.8 553.1,262.7 553.3,264.4 553.5,263.6 553.7,265.3 554.0,268.4 554.2,266.6 554.4,264.8 554.6,262.4 554.9,262.5 555.1,262.1 555.3,266.2 555.5,264.2 555.8,265.3 556.0,264.3 556.2,265.4 556.5,267.8 556.7,264.5 556.9,264.7 557.1,264.0 557.4,266.8 557.6,263.9 557.8,263.3 558.0,262.9 558.3,262.8 558.5,266.0 558.7,270.0 558.9,264.3 559.2,267.0 559.4,266.2 559.6,263.7 559.8,264.9 560.1,265.1 560.3,264.4 560.5,268.8 560.7,262.7 561.0,265.9 561.2,266.3 561.4,264.7 561.6,265.8 561.9,267.2 562.1,266.1 562.3,266.4 562.6,266.9 562.8,262.3 563.0,267.8 563.2,269.9 563.5,267.8 563.7,267.6 563.9,263.5 564.1,265.3 564.4,264.3 564.6,264.6 564.8,267.3 565.0,264.6 565.3,265.4 565.5,262.5 565.7,265.2 565.9,265.9 566.2,264.6 566.4,264.5 566.6,268.9 566.8,264.1 567.1,263.8 567.3,264.3 567.5,267.8 567.7,269.7 568.0,266.9 568.2,264.7 568.4,265.0 568.7,267.7 568.9,264.6 569.1,268.2 569.3,268.6 569.6,266.3 569.8,267.1 570.0,267.4 570.2,268.8 570.5,264.5 570.7,267.8 570.9,265.6 571.1,264.6 571.4,266.0 571.6,265.7 571.8,264.3 572.0,263.1 572.3,264.1 572.5,268.4 572.7,269.7 572.9,267.6 573.2,268.2 573.4,265.4 573.6,265.9 573.8,266.6 574.1,264.3 574.3,264.2 574.5,266.1 574.8,265.6 575.0,264.3 575.2,266.6 575.4,265.8 575.7,267.9 575.9,266.4 576.1,265.7 576.3,266.4 576.6,266.0 576.8,265.1 577.0,265.4 577.2,267.5 577.5,267.5 577.7,268.6 577.9,263.7 578.1,265.3 578.4,265.5 578.6,266.5 578.8,265.6 579.0,265.4 579.3,267.6 579.5,266.8 579.7,264.4 579.9,268.5 580.2,268.4 580.4,265.6 580.6,267.7 580.9,265.3 581.1,268.2 581.3,266.3 581.5,265.1 581.8,265.7 582.0,265.1 582.2,266.7 582.4,266.8 582.7,266.6 582.9,265.6 583.1,260.2 583.3,266.0 583.6,263.3 583.8,266.6 584.0,268.5 584.2,267.3 584.5,266.0 584.7,266.2 584.9,266.3 585.1,265.6 585.4,265.5 585.6,264.9 585.8,268.5 586.0,266.8 586.3,268.3 586.5,266.4 586.7,266.7 587.0,266.4 587.2,267.4 587.4,268.2 587.6,267.3 587.9,265.6 588.1,265.2 588.3,269.4 588.5,266.5 588.8,266.2 589.0,269.2 589.2,268.9 589.4,267.8 589.7,266.1 589.9,270.7 590.1,267.8 590.3,267.7 590.6,266.5 590.8,264.2 591.0,264.1 591.2,267.1 591.5,267.4 591.7,266.3 591.9,264.6 592.2,263.9 592.4,265.7 592.6,263.9 592.8,267.7 593.1,268.5 593.3,271.3 593.5,268.2 593.7,265.2 594.0,264.3 594.2,259.7 594.4,263.9 594.6,264.9 594.9,266.7 595.1,266.1 595.3,265.7 595.5,264.7 595.8,265.0 596.0,266.1 596.2,261.6 596.4,261.7 596.7,259.9 596.9,264.4 597.1,264.0 597.3,262.7 597.6,258.9 597.8,260.5 598.0,259.8 598.3,260.1 598.5,259.6 598.7,260.7 598.9,259.3 599.2,261.4 599.4,260.8 599.6,260.0 599.8,260.5 600.1,260.3 600.3,262.8 600.5,261.6 600.7,262.8 601.0,262.1 601.2,260.6 601.4,264.9 601.6,262.3 601.9,265.3 602.1,265.5 602.3,262.2 602.5,263.3 602.8,264.4 603.0,264.2 603.2,263.7 603.4,267.0 603.7,265.8 603.9,266.7 604.1,265.4 604.4,266.5 604.6,264.8 604.8,265.7 605.0,266.8 605.3,265.9 605.5,264.7 605.7,263.4 605.9,265.2 606.2,265.5 606.4,264.2 606.6,263.0 606.8,264.9 607.1,268.2 607.3,263.6 607.5,263.9 607.7,263.9 608.0,258.7 608.2,262.6 608.4,261.6 608.6,265.0 608.9,262.7 609.1,261.5 609.3,262.5 609.5,263.5 609.8,262.5 610.0,263.5 610.2,261.6 610.5,263.6 610.7,265.8 610.9,268.4 611.1,266.7 611.4,266.0 611.6,267.8 611.8,267.9 612.0,269.2 612.3,268.6 612.5,266.6 612.7,267.2 612.9,267.3 613.2,267.7 613.4,267.7 613.6,266.1 613.8,263.7 614.1,266.0 614.3,264.0 614.5,267.4 614.7,267.8 615.0,264.9 615.2,268.7 615.4,269.5 615.6,268.2 615.9,270.8 616.1,271.4 616.3,266.2 616.6,269.5 616.8,268.9 617.0,268.8 617.2,269.7 617.5,266.9 617.7,266.8 617.9,266.5 618.1,266.6 618.4,267.7 618.6,265.5 618.8,266.0 619.0,268.8 619.3,268.0 619.5,268.7 619.7,264.9 619.9,266.3 620.2,266.9 620.4,268.0 620.6,267.0 620.8,269.5 621.1,268.1 621.3,268.1 621.5,268.1 621.7,269.3 622.0,267.4 622.2,269.9 622.4,269.1 622.7,268.4 622.9,268.2 623.1,269.0 623.3,269.9 623.6,269.9 623.8,268.9 624.0,269.6 624.2,268.4 624.5,270.2 624.7,268.2 624.9,264.5 625.1,269.9 625.4,268.5 625.6,266.1 625.8,267.5 626.0,266.5 626.3,271.5 626.5,269.3 626.7,265.5 626.9,268.7 627.2,267.5 627.4,271.3 627.6,266.6 627.8,264.0 628.1,267.7 628.3,267.5 628.5,267.3 628.8,264.3 629.0,268.4 629.2,271.0 629.4,265.1 629.7,269.7 629.9,267.3 630.1,271.9 630.3,269.2 630.6,267.8 630.8,269.9 631.0,269.1 631.2,267.1 631.5,269.1 631.7,267.3 631.9,264.9 632.1,271.2 632.4,267.8 632.6,266.9 632.8,268.5 633.0,265.4 633.3,265.4 633.5,266.9 633.7,267.0 634.0,268.0 634.2,269.9 634.4,267.4 634.6,268.7 634.9,269.1 635.1,266.3 635.3,268.2 635.5,266.4 635.8,269.6 636.0,269.0 636.2,268.1 636.4,265.7 636.7,267.9 636.9,266.7 637.1,269.0 637.3,267.9 637.6,266.5 637.8,269.4 638.0,269.4 638.2,267.1 638.5,269.8 638.7,267.7 638.9,267.4 639.1,268.1 639.4,266.7 639.6,267.0 639.8,267.6 640.1,270.5 640.3,270.8 640.5,267.8 640.7,270.6 641.0,268.1 641.2,268.5 641.4,269.5 641.6,268.6 641.9,272.1 642.1,268.8 642.3,265.9 642.5,269.9 642.8,267.4 643.0,267.3 643.2,262.7 643.4,269.0 643.7,269.4 643.9,269.4 644.1,269.7 644.3,270.9 644.6,268.1 644.8,269.4 645.0,266.7 645.2,267.1 645.5,269.5 645.7,268.7 645.9,265.6 646.2,268.1 646.4,267.5 646.6,266.3 646.8,268.4 647.1,267.1 647.3,265.0 647.5,265.5 647.7,270.5 648.0,265.5 648.2,267.8 648.4,268.8 648.6,268.9 648.9,265.7 649.1,266.9 649.3,267.9 649.5,269.1 649.8,266.7 650.0,265.5 650.2,269.1 650.4,269.7 650.7,268.5 650.9,266.6 651.1,268.2 651.3,267.8 651.6,269.0 651.8,265.6 652.0,267.5 652.3,267.3 652.5,265.6 652.7,267.7 652.9,267.6 653.2,266.8 653.4,268.1 653.6,265.1 653.8,267.1 654.1,268.1 654.3,268.0 654.5,269.3 654.7,265.5 655.0,264.5 655.2,267.4 655.4,268.1 655.6,271.0 655.9,268.7 656.1,265.9 656.3,268.4 656.5,265.9 656.8,264.5 657.0,271.3 657.2,268.1 657.4,268.4 657.7,268.1 657.9,270.2 658.1,267.8 658.4,269.1 658.6,265.4 658.8,264.3 659.0,269.0 659.3,269.6 659.5,267.9 659.7,267.2 659.9,266.9 660.2,265.4 660.4,269.0 660.6,267.9 660.8,267.4 661.1,267.0 661.3,268.1 661.5,267.2 661.7,267.4 662.0,264.1 662.2,266.5 662.4,269.6 662.6,265.1 662.9,265.1 663.1,266.8 663.3,266.9 663.5,266.1 663.8,262.0 664.0,264.9 664.2,262.2 664.5,262.1 664.7,264.2 664.9,262.6 665.1,263.9 665.4,267.6 665.6,263.4 665.8,262.2 666.0,258.7 666.3,258.1 666.5,256.6 666.7,256.5 666.9,254.7 667.2,254.3 667.4,254.0 667.6,251.6 667.8,249.5 668.1,248.2 668.3,250.0 668.5,248.3 668.7,248.5 669.0,247.3 669.2,243.5 669.4,243.7 669.6,239.0 669.9,243.9 670.1,241.7 670.3,238.3 670.6,235.8 670.8,237.9 671.0,234.2 671.2,235.7 671.5,238.9 671.7,238.6 671.9,238.2 672.1,241.5 672.4,239.4 672.6,242.5 672.8,242.7 673.0,243.3 673.3,246.9 673.5,246.1 673.7,252.2 673.9,249.9 674.2,255.2 674.4,251.8 674.6,255.4 674.8,253.9 675.1,254.5 675.3,258.1 675.5,260.3 675.8,258.0 676.0,262.7 676.2,260.5 676.4,262.4 676.7,263.6 676.9,264.6 677.1,261.0 677.3,266.9 677.6,266.1 677.8,264.5 678.0,263.6 678.2,262.5 678.5,263.2 678.7,266.7 678.9,265.7 679.1,264.3 679.4,265.3 679.6,269.1 679.8,266.3 680.0,265.6 680.3,268.9 680.5,267.8 680.7,267.0 680.9,265.8 681.2,264.1 681.4,264.6 681.6,265.9 681.9,266.5 682.1,267.5 682.3,268.0 682.5,267.5 682.8,267.4 683.0,265.4 683.2,263.2 683.4,265.8 683.7,265.3 683.9,265.8 684.1,266.5 684.3,264.9 684.6,265.0 684.8,266.7 685.0,267.3 685.2,266.0 685.5,267.9 685.7,266.9 685.9,265.4 686.1,267.0 686.4,270.4 686.6,266.4 686.8,269.0 687.0,269.7 687.3,270.0 687.5,266.0 687.7,270.5 688.0,267.7 688.2,266.8 688.4,266.7 688.6,268.2 688.9,267.4 689.1,266.9 689.3,269.3 689.5,266.2 689.8,265.2 690.0,268.3 690.2,268.5 690.4,269.2 690.7,265.5 690.9,268.8 691.1,268.2 691.3,270.3 691.6,265.4 691.8,267.3 692.0,266.7 692.2,264.4 692.5,265.6 692.7,268.9 692.9,266.6 693.1,265.8 693.4,268.5 693.6,269.0"/>
<polyline id="xrd-blue" stroke="#0c4699" stroke-width="3.1" points="61.0,477.2 61.2,478.4 61.4,478.5 61.6,476.9 61.9,476.9 62.1,476.8 62.3,477.7 62.5,477.3 62.8,478.0 63.0,475.7 63.2,478.6 63.4,477.4 63.7,478.0 63.9,477.3 64.1,477.0 64.3,477.8 64.6,478.2 64.8,477.3 65.0,477.3 65.2,478.1 65.5,476.8 65.7,476.0 65.9,477.7 66.1,476.9 66.4,475.7 66.6,476.6 66.8,477.0 67.1,476.4 67.3,476.1 67.5,477.5 67.7,478.4 68.0,477.5 68.2,476.9 68.4,477.9 68.6,478.3 68.9,477.5 69.1,478.1 69.3,478.7 69.5,477.6 69.8,477.0 70.0,478.0 70.2,478.0 70.4,478.8 70.7,476.7 70.9,477.1 71.1,477.0 71.3,476.2 71.6,477.8 71.8,478.3 72.0,477.2 72.2,479.0 72.5,478.7 72.7,478.5 72.9,478.3 73.2,478.8 73.4,476.8 73.6,478.4 73.8,478.6 74.1,476.4 74.3,478.1 74.5,477.8 74.7,478.7 75.0,477.7 75.2,478.0 75.4,478.3 75.6,477.3 75.9,478.5 76.1,478.0 76.3,478.5 76.5,477.7 76.8,479.0 77.0,478.8 77.2,478.0 77.4,478.7 77.7,479.4 77.9,479.9 78.1,476.9 78.3,478.8 78.6,478.7 78.8,478.2 79.0,477.3 79.3,479.3 79.5,477.2 79.7,478.6 79.9,479.5 80.2,477.0 80.4,477.9 80.6,477.1 80.8,478.4 81.1,479.7 81.3,480.3 81.5,477.0 81.7,477.7 82.0,479.0 82.2,479.9 82.4,478.9 82.6,477.8 82.9,478.6 83.1,478.4 83.3,478.3 83.5,477.8 83.8,478.7 84.0,478.8 84.2,478.4 84.4,478.3 84.7,477.3 84.9,478.0 85.1,479.6 85.4,478.5 85.6,477.2 85.8,479.6 86.0,479.2 86.3,480.5 86.5,478.9 86.7,478.2 86.9,477.3 87.2,479.7 87.4,481.1 87.6,478.2 87.8,478.0 88.1,479.1 88.3,478.0 88.5,478.4 88.7,478.3 89.0,478.8 89.2,479.7 89.4,478.8 89.6,479.6 89.9,478.5 90.1,479.0 90.3,476.9 90.5,477.2 90.8,479.3 91.0,478.3 91.2,479.3 91.5,479.3 91.7,480.1 91.9,479.7 92.1,479.8 92.4,478.8 92.6,478.2 92.8,478.1 93.0,478.4 93.3,477.8 93.5,478.3 93.7,478.8 93.9,479.1 94.2,478.6 94.4,477.1 94.6,478.7 94.8,479.1 95.1,479.9 95.3,479.6 95.5,478.4 95.7,478.2 96.0,480.7 96.2,479.9 96.4,480.7 96.6,481.1 96.9,478.5 97.1,479.3 97.3,479.5 97.6,479.6 97.8,479.6 98.0,479.3 98.2,479.2 98.5,477.7 98.7,478.8 98.9,478.4 99.1,479.1 99.4,478.7 99.6,479.6 99.8,479.9 100.0,479.5 100.3,479.4 100.5,479.2 100.7,478.7 100.9,478.9 101.2,478.7 101.4,479.4 101.6,479.2 101.8,479.7 102.1,478.0 102.3,479.8 102.5,478.6 102.8,478.4 103.0,478.9 103.2,478.6 103.4,479.4 103.7,478.7 103.9,478.2 104.1,478.3 104.3,480.3 104.6,479.4 104.8,478.2 105.0,479.1 105.2,477.8 105.5,480.7 105.7,478.0 105.9,479.5 106.1,479.8 106.4,478.0 106.6,479.4 106.8,480.2 107.0,479.8 107.3,479.5 107.5,480.1 107.7,479.5 107.9,479.6 108.2,479.2 108.4,479.8 108.6,478.5 108.9,479.9 109.1,478.9 109.3,478.2 109.5,479.5 109.8,480.8 110.0,480.3 110.2,478.9 110.4,479.9 110.7,479.0 110.9,479.1 111.1,479.4 111.3,477.2 111.6,479.2 111.8,478.4 112.0,478.6 112.2,477.9 112.5,477.8 112.7,478.3 112.9,480.0 113.1,480.9 113.4,479.5 113.6,480.3 113.8,479.2 114.0,477.6 114.3,479.3 114.5,479.7 114.7,479.0 115.0,479.5 115.2,479.9 115.4,478.6 115.6,477.9 115.9,479.0 116.1,479.1 116.3,479.0 116.5,480.2 116.8,481.0 117.0,479.1 117.2,479.9 117.4,480.2 117.7,480.0 117.9,480.3 118.1,479.1 118.3,479.9 118.6,481.2 118.8,480.2 119.0,478.8 119.2,479.8 119.5,480.5 119.7,479.8 119.9,478.8 120.1,480.6 120.4,478.3 120.6,479.6 120.8,479.3 121.1,478.2 121.3,480.3 121.5,479.7 121.7,478.3 122.0,479.7 122.2,479.0 122.4,477.5 122.6,478.5 122.9,479.5 123.1,479.9 123.3,479.5 123.5,479.4 123.8,479.7 124.0,479.2 124.2,480.3 124.4,479.5 124.7,479.6 124.9,479.8 125.1,478.4 125.3,478.5 125.6,480.6 125.8,479.7 126.0,479.1 126.2,479.6 126.5,478.9 126.7,479.5 126.9,478.7 127.2,479.5 127.4,477.9 127.6,480.3 127.8,478.9 128.1,477.8 128.3,478.9 128.5,478.9 128.7,479.4 129.0,478.3 129.2,479.5 129.4,482.6 129.6,478.5 129.9,479.4 130.1,479.0 130.3,479.4 130.5,477.6 130.8,478.0 131.0,479.5 131.2,479.3 131.4,480.7 131.7,478.8 131.9,479.3 132.1,481.9 132.3,478.8 132.6,478.3 132.8,479.1 133.0,479.2 133.3,480.0 133.5,479.4 133.7,478.6 133.9,479.3 134.2,481.6 134.4,480.6 134.6,476.8 134.8,478.8 135.1,478.4 135.3,479.7 135.5,479.1 135.7,480.9 136.0,480.2 136.2,480.1 136.4,479.4 136.6,479.2 136.9,479.5 137.1,480.4 137.3,479.8 137.5,478.9 137.8,480.3 138.0,479.5 138.2,479.1 138.4,478.4 138.7,478.6 138.9,478.5 139.1,476.6 139.4,479.8 139.6,479.7 139.8,479.0 140.0,480.0 140.3,479.6 140.5,479.5 140.7,476.9 140.9,478.7 141.2,479.6 141.4,480.6 141.6,480.9 141.8,480.6 142.1,478.2 142.3,477.0 142.5,479.4 142.7,479.2 143.0,479.9 143.2,479.0 143.4,479.2 143.6,477.7 143.9,479.3 144.1,478.7 144.3,479.3 144.6,479.5 144.8,479.0 145.0,479.3 145.2,479.0 145.5,479.7 145.7,479.5 145.9,478.5 146.1,478.4 146.4,480.5 146.6,479.0 146.8,479.8 147.0,479.4 147.3,478.5 147.5,478.2 147.7,479.0 147.9,479.2 148.2,479.5 148.4,477.8 148.6,478.2 148.8,478.7 149.1,480.3 149.3,476.9 149.5,479.0 149.7,478.4 150.0,479.2 150.2,478.4 150.4,479.1 150.7,480.2 150.9,479.3 151.1,479.2 151.3,479.2 151.6,478.1 151.8,479.2 152.0,478.6 152.2,478.0 152.5,478.6 152.7,478.5 152.9,479.3 153.1,478.7 153.4,478.2 153.6,479.9 153.8,479.7 154.0,479.9 154.3,479.3 154.5,478.6 154.7,478.2 154.9,478.3 155.2,479.4 155.4,478.7 155.6,477.2 155.8,478.3 156.1,477.2 156.3,478.5 156.5,477.4 156.8,477.2 157.0,478.4 157.2,478.3 157.4,476.9 157.7,478.9 157.9,480.4 158.1,477.2 158.3,479.8 158.6,477.8 158.8,477.7 159.0,478.0 159.2,476.9 159.5,479.2 159.7,478.7 159.9,477.5 160.1,477.8 160.4,476.7 160.6,477.6 160.8,478.8 161.0,476.5 161.3,477.4 161.5,478.0 161.7,478.9 161.9,479.2 162.2,477.6 162.4,477.1 162.6,478.1 162.9,477.5 163.1,477.4 163.3,478.6 163.5,479.3 163.8,478.0 164.0,477.4 164.2,478.0 164.4,475.8 164.7,477.2 164.9,476.4 165.1,479.4 165.3,478.2 165.6,477.4 165.8,477.0 166.0,474.8 166.2,477.4 166.5,478.5 166.7,476.4 166.9,477.4 167.1,477.5 167.4,475.4 167.6,477.4 167.8,477.9 168.0,476.9 168.3,476.4 168.5,477.1 168.7,475.0 169.0,476.1 169.2,477.1 169.4,475.0 169.6,476.7 169.9,475.6 170.1,473.8 170.3,475.3 170.5,474.6 170.8,475.6 171.0,474.2 171.2,476.0 171.4,474.4 171.7,475.1 171.9,474.2 172.1,474.2 172.3,475.4 172.6,474.5 172.8,473.7 173.0,472.7 173.2,474.6 173.5,474.2 173.7,473.0 173.9,473.2 174.1,471.9 174.4,471.5 174.6,471.4 174.8,472.2 175.1,471.9 175.3,470.6 175.5,471.5 175.7,471.3 176.0,470.4 176.2,470.6 176.4,469.0 176.6,468.5 176.9,468.5 177.1,467.5 177.3,467.5 177.5,465.1 177.8,466.5 178.0,463.9 178.2,463.3 178.4,461.2 178.7,461.8 178.9,461.3 179.1,459.9 179.3,458.2 179.6,454.4 179.8,453.2 180.0,451.7 180.2,449.3 180.5,448.9 180.7,445.9 180.9,443.2 181.2,440.9 181.4,436.9 181.6,433.8 181.8,430.6 182.1,428.6 182.3,425.2 182.5,422.0 182.7,419.0 183.0,413.3 183.2,410.4 183.4,407.9 183.6,403.7 183.9,401.7 184.1,401.0 184.3,399.6 184.5,398.6 184.8,397.2 185.0,397.5 185.2,400.5 185.4,402.3 185.7,406.6 185.9,412.2 186.1,415.8 186.4,420.7 186.6,426.6 186.8,432.4 187.0,437.4 187.3,441.9 187.5,446.6 187.7,448.7 187.9,452.6 188.2,456.7 188.4,458.5 188.6,460.3 188.8,462.3 189.1,464.1 189.3,466.1 189.5,466.4 189.7,468.2 190.0,470.3 190.2,469.2 190.4,470.6 190.6,470.1 190.9,468.8 191.1,469.5 191.3,468.9 191.5,470.4 191.8,468.7 192.0,470.6 192.2,470.0 192.5,467.3 192.7,469.3 192.9,469.9 193.1,467.5 193.4,468.5 193.6,465.7 193.8,466.7 194.0,464.6 194.3,465.7 194.5,463.1 194.7,461.2 194.9,462.9 195.2,463.8 195.4,460.1 195.6,459.6 195.8,457.3 196.1,454.8 196.3,453.3 196.5,451.6 196.7,445.9 197.0,443.5 197.2,439.2 197.4,432.7 197.6,429.7 197.9,423.9 198.1,414.2 198.3,408.3 198.6,398.3 198.8,388.3 199.0,379.5 199.2,367.7 199.5,356.4 199.7,346.1 199.9,334.9 200.1,324.2 200.4,313.2 200.6,305.8 200.8,303.8 201.0,300.7 201.3,303.2 201.5,307.5 201.7,316.4 201.9,326.0 202.2,340.8 202.4,352.0 202.6,366.1 202.8,379.7 203.1,393.9 203.3,403.8 203.5,415.9 203.7,425.8 204.0,435.1 204.2,442.5 204.4,447.9 204.7,453.6 204.9,457.4 205.1,461.4 205.3,463.7 205.6,465.3 205.8,467.4 206.0,469.2 206.2,471.9 206.5,470.4 206.7,471.5 206.9,473.1 207.1,470.5 207.4,470.8 207.6,471.6 207.8,472.9 208.0,475.5 208.3,474.1 208.5,474.8 208.7,473.7 208.9,471.7 209.2,471.7 209.4,474.8 209.6,474.5 209.8,473.1 210.1,475.2 210.3,473.1 210.5,475.3 210.8,475.9 211.0,473.9 211.2,473.4 211.4,475.2 211.7,473.6 211.9,475.2 212.1,473.5 212.3,475.0 212.6,474.6 212.8,474.0 213.0,473.4 213.2,474.4 213.5,472.5 213.7,473.6 213.9,473.6 214.1,474.5 214.4,472.7 214.6,475.1 214.8,473.4 215.0,472.3 215.3,474.3 215.5,474.7 215.7,472.9 215.9,471.8 216.2,472.4 216.4,471.6 216.6,471.6 216.9,473.0 217.1,471.8 217.3,471.1 217.5,470.9 217.8,470.1 218.0,470.4 218.2,470.0 218.4,468.3 218.7,468.0 218.9,469.4 219.1,467.0 219.3,465.4 219.6,466.3 219.8,463.6 220.0,461.2 220.2,461.3 220.5,458.5 220.7,457.1 220.9,456.0 221.1,453.7 221.4,450.9 221.6,448.7 221.8,446.1 222.0,444.9 222.3,440.5 222.5,437.4 222.7,436.6 223.0,431.2 223.2,429.5 223.4,426.3 223.6,421.8 223.9,417.6 224.1,416.7 224.3,415.0 224.5,413.8 224.8,412.3 225.0,413.2 225.2,415.0 225.4,415.8 225.7,421.9 225.9,426.0 226.1,430.6 226.3,436.4 226.6,443.9 226.8,448.5 227.0,450.7 227.2,456.4 227.5,460.1 227.7,463.3 227.9,465.6 228.2,466.9 228.4,470.6 228.6,470.6 228.8,472.1 229.1,472.7 229.3,473.3 229.5,475.1 229.7,475.3 230.0,474.6 230.2,474.6 230.4,475.2 230.6,476.7 230.9,476.2 231.1,476.4 231.3,476.0 231.5,476.1 231.8,476.6 232.0,474.9 232.2,477.9 232.4,476.1 232.7,476.2 232.9,478.0 233.1,477.2 233.3,477.0 233.6,476.5 233.8,475.6 234.0,477.1 234.3,478.2 234.5,476.4 234.7,478.3 234.9,476.3 235.2,476.4 235.4,477.6 235.6,477.3 235.8,477.9 236.1,476.7 236.3,476.3 236.5,475.6 236.7,476.1 237.0,476.3 237.2,476.0 237.4,477.5 237.6,476.9 237.9,475.6 238.1,479.5 238.3,476.9 238.5,476.2 238.8,478.5 239.0,478.7 239.2,476.6 239.4,476.1 239.7,476.5 239.9,478.4 240.1,477.3 240.4,476.8 240.6,477.4 240.8,478.6 241.0,476.4 241.3,477.1 241.5,476.3 241.7,479.4 241.9,479.4 242.2,478.6 242.4,477.5 242.6,478.1 242.8,475.7 243.1,477.6 243.3,476.4 243.5,476.2 243.7,476.8 244.0,477.2 244.2,478.0 244.4,478.3 244.6,477.9 244.9,476.7 245.1,478.1 245.3,477.5 245.5,478.6 245.8,476.9 246.0,475.0 246.2,476.9 246.5,479.5 246.7,478.2 246.9,477.4 247.1,478.3 247.4,478.1 247.6,478.0 247.8,477.1 248.0,477.6 248.3,477.7 248.5,477.0 248.7,476.5 248.9,477.6 249.2,478.4 249.4,478.2 249.6,478.0 249.8,478.0 250.1,479.9 250.3,478.0 250.5,478.5 250.7,479.4 251.0,477.8 251.2,477.8 251.4,478.5 251.6,479.1 251.9,477.9 252.1,477.8 252.3,477.6 252.6,476.4 252.8,478.4 253.0,477.4 253.2,475.9 253.5,477.2 253.7,475.9 253.9,476.4 254.1,477.4 254.4,476.6 254.6,478.3 254.8,476.2 255.0,477.5 255.3,477.9 255.5,478.8 255.7,478.4 255.9,477.7 256.2,477.5 256.4,477.3 256.6,478.4 256.8,476.9 257.1,477.7 257.3,477.3 257.5,477.5 257.7,477.1 258.0,479.2 258.2,476.9 258.4,477.4 258.7,477.5 258.9,477.7 259.1,477.6 259.3,477.5 259.6,478.0 259.8,475.8 260.0,476.8 260.2,475.8 260.5,476.9 260.7,475.7 260.9,475.6 261.1,476.4 261.4,477.6 261.6,476.9 261.8,476.4 262.0,477.1 262.3,474.9 262.5,473.4 262.7,474.5 262.9,474.5 263.2,475.6 263.4,476.2 263.6,472.9 263.8,475.6 264.1,474.8 264.3,473.7 264.5,472.8 264.8,474.3 265.0,472.1 265.2,471.0 265.4,471.3 265.7,469.8 265.9,471.2 266.1,470.8 266.3,471.2 266.6,471.4 266.8,470.3 267.0,472.5 267.2,470.9 267.5,472.6 267.7,470.9 267.9,472.8 268.1,472.3 268.4,473.3 268.6,473.1 268.8,472.0 269.0,473.2 269.3,474.7 269.5,475.6 269.7,474.1 270.0,473.5 270.2,474.8 270.4,475.7 270.6,475.6 270.9,475.6 271.1,477.2 271.3,477.6 271.5,477.5 271.8,476.0 272.0,476.8 272.2,476.7 272.4,475.6 272.7,477.6 272.9,477.2 273.1,476.6 273.3,478.3 273.6,477.9 273.8,477.9 274.0,478.2 274.2,477.8 274.5,476.0 274.7,476.6 274.9,477.9 275.1,476.5 275.4,477.0 275.6,477.4 275.8,478.4 276.1,478.4 276.3,478.0 276.5,477.0 276.7,477.8 277.0,477.6 277.2,476.9 277.4,478.2 277.6,477.6 277.9,475.9 278.1,478.9 278.3,476.8 278.5,477.9 278.8,474.7 279.0,476.7 279.2,475.5 279.4,475.3 279.7,473.8 279.9,480.0 280.1,477.1 280.3,477.3 280.6,478.7 280.8,476.9 281.0,477.7 281.2,474.9 281.5,477.0 281.7,476.3 281.9,477.6 282.2,477.3 282.4,474.7 282.6,473.7 282.8,474.9 283.1,477.8 283.3,477.6 283.5,477.5 283.7,473.7 284.0,472.2 284.2,475.3 284.4,476.1 284.6,475.8 284.9,477.2 285.1,476.5 285.3,474.8 285.5,475.1 285.8,476.8 286.0,476.8 286.2,476.6 286.4,480.2 286.7,476.7 286.9,476.8 287.1,475.1 287.3,475.9 287.6,477.4 287.8,477.6 288.0,476.4 288.3,477.2 288.5,476.7 288.7,473.6 288.9,471.1 289.2,479.6 289.4,478.2 289.6,476.6 289.8,473.7 290.1,474.2 290.3,478.4 290.5,472.3 290.7,475.4 291.0,477.7 291.2,476.8 291.4,477.6 291.6,476.3 291.9,480.1 292.1,475.2 292.3,474.0 292.5,476.5 292.8,478.6 293.0,476.5 293.2,477.9 293.4,475.6 293.7,474.3 293.9,478.2 294.1,478.9 294.4,478.9 294.6,475.8 294.8,474.3 295.0,474.1 295.3,475.6 295.5,477.0 295.7,477.0 295.9,473.9 296.2,476.2 296.4,476.1 296.6,476.2 296.8,476.0 297.1,475.7 297.3,476.9 297.5,476.3 297.7,476.4 298.0,474.9 298.2,476.5 298.4,475.8 298.6,472.6 298.9,476.3 299.1,475.6 299.3,477.3 299.5,475.8 299.8,475.7 300.0,476.2 300.2,475.8 300.5,475.1 300.7,472.9 300.9,478.4 301.1,473.6 301.4,474.9 301.6,476.7 301.8,476.4 302.0,476.7 302.3,477.0 302.5,477.8 302.7,476.3 302.9,480.3 303.2,474.5 303.4,475.8 303.6,475.0 303.8,474.6 304.1,475.9 304.3,477.9 304.5,474.6 304.7,474.3 305.0,476.5 305.2,476.4 305.4,478.6 305.6,477.4 305.9,476.0 306.1,474.9 306.3,475.7 306.6,475.1 306.8,473.2 307.0,475.1 307.2,475.0 307.5,474.9 307.7,474.6 307.9,477.8 308.1,476.6 308.4,476.8 308.6,474.4 308.8,473.5 309.0,474.6 309.3,475.5 309.5,474.6 309.7,474.8 309.9,476.6 310.2,475.7 310.4,473.6 310.6,474.2 310.8,473.9 311.1,475.2 311.3,473.2 311.5,474.5 311.8,476.0 312.0,475.1 312.2,473.5 312.4,473.8 312.7,475.0 312.9,475.7 313.1,476.3 313.3,474.8 313.6,472.7 313.8,476.8 314.0,475.5 314.2,475.5 314.5,475.3 314.7,473.2 314.9,474.0 315.1,475.1 315.4,476.4 315.6,474.9 315.8,469.7 316.0,473.7 316.3,475.1 316.5,476.7 316.7,475.9 316.9,478.6 317.2,477.2 317.4,476.9 317.6,476.2 317.9,472.4 318.1,475.5 318.3,475.5 318.5,473.7 318.8,475.2 319.0,475.1 319.2,473.7 319.4,474.0 319.7,473.8 319.9,474.6 320.1,473.6 320.3,475.0 320.6,471.2 320.8,473.3 321.0,471.4 321.2,473.0 321.5,474.7 321.7,474.1 321.9,473.7 322.1,473.9 322.4,476.3 322.6,472.3 322.8,474.9 323.0,471.4 323.3,472.5 323.5,473.6 323.7,472.1 324.0,473.5 324.2,474.4 324.4,471.3 324.6,472.6 324.9,472.3 325.1,469.6 325.3,472.0 325.5,471.2 325.8,474.3 326.0,471.1 326.2,474.6 326.4,471.4 326.7,474.7 326.9,472.8 327.1,472.3 327.3,472.7 327.6,472.7 327.8,473.4 328.0,473.9 328.2,470.6 328.5,468.7 328.7,466.2 328.9,469.5 329.1,471.7 329.4,471.2 329.6,470.7 329.8,470.0 330.1,469.4 330.3,470.0 330.5,471.2 330.7,467.9 331.0,471.6 331.2,468.6 331.4,470.4 331.6,470.0 331.9,470.4 332.1,469.5 332.3,469.3 332.5,470.8 332.8,469.8 333.0,475.3 333.2,471.5 333.4,470.7 333.7,470.9 333.9,470.2 334.1,468.0 334.3,471.2 334.6,472.6 334.8,469.8 335.0,471.9 335.2,470.3 335.5,471.9 335.7,472.7 335.9,473.0 336.2,472.9 336.4,471.0 336.6,473.2 336.8,471.3 337.1,472.2 337.3,472.7 337.5,471.0 337.7,469.1 338.0,471.7 338.2,469.0 338.4,468.8 338.6,468.1 338.9,470.8 339.1,469.2 339.3,465.3 339.5,469.2 339.8,471.4 340.0,470.8 340.2,466.5 340.4,466.7 340.7,467.0 340.9,467.3 341.1,465.7 341.3,463.5 341.6,465.9 341.8,465.9 342.0,462.8 342.3,464.0 342.5,465.2 342.7,465.1 342.9,466.1 343.2,467.0 343.4,467.0 343.6,466.3 343.8,464.7 344.1,468.0 344.3,470.0 344.5,471.5 344.7,468.9 345.0,468.9 345.2,471.7 345.4,472.3 345.6,470.9 345.9,471.6 346.1,469.6 346.3,471.7 346.5,469.9 346.8,471.0 347.0,471.3 347.2,470.9 347.5,468.3 347.7,470.1 347.9,472.3 348.1,471.9 348.4,471.4 348.6,472.6 348.8,473.2 349.0,473.5 349.3,471.0 349.5,472.0 349.7,471.6 349.9,470.7 350.2,469.6 350.4,471.7 350.6,470.7 350.8,475.3 351.1,472.3 351.3,471.7 351.5,471.4 351.7,474.9 352.0,470.9 352.2,471.6 352.4,470.8 352.6,471.7 352.9,471.9 353.1,473.7 353.3,470.0 353.6,471.7 353.8,474.5 354.0,471.4 354.2,471.6 354.5,470.5 354.7,467.6 354.9,471.3 355.1,473.7 355.4,471.4 355.6,468.9 355.8,472.0 356.0,472.0 356.3,473.4 356.5,473.4 356.7,471.5 356.9,472.4 357.2,469.0 357.4,473.2 357.6,472.2 357.8,473.5 358.1,473.6 358.3,471.5 358.5,471.4 358.7,470.3 359.0,468.3 359.2,471.1 359.4,471.9 359.7,470.0 359.9,472.6 360.1,471.9 360.3,472.3 360.6,470.5 360.8,468.7 361.0,472.5 361.2,472.6 361.5,471.5 361.7,470.8 361.9,471.0 362.1,471.2 362.4,470.6 362.6,468.2 362.8,472.3 363.0,469.2 363.3,470.6 363.5,470.8 363.7,471.7 363.9,468.9 364.2,473.0 364.4,472.6 364.6,472.6 364.8,473.4 365.1,470.2 365.3,466.2 365.5,471.2 365.8,473.4 366.0,473.3 366.2,470.6 366.4,470.9 366.7,471.6 366.9,468.3 367.1,469.8 367.3,470.0 367.6,473.5 367.8,470.3 368.0,473.4 368.2,471.3 368.5,468.4 368.7,474.2 368.9,469.8 369.1,471.7 369.4,473.7 369.6,470.3 369.8,468.8 370.0,472.3 370.3,471.1 370.5,468.9 370.7,468.8 370.9,469.9 371.2,472.1 371.4,470.3 371.6,471.6 371.9,473.2 372.1,472.8 372.3,472.9 372.5,472.5 372.8,467.9 373.0,471.8 373.2,470.7 373.4,469.7 373.7,468.0 373.9,466.8 374.1,467.3 374.3,468.9 374.6,467.0 374.8,467.1 375.0,467.1 375.2,468.8 375.5,467.2 375.7,466.8 375.9,468.8 376.1,466.0 376.4,466.7 376.6,463.9 376.8,465.3 377.0,464.9 377.3,464.6 377.5,463.3 377.7,462.0 378.0,462.9 378.2,462.7 378.4,465.1 378.6,465.3 378.9,462.1 379.1,464.9 379.3,463.7 379.5,465.4 379.8,464.4 380.0,463.1 380.2,467.3 380.4,467.2 380.7,464.9 380.9,463.9 381.1,466.3 381.3,465.9 381.6,467.4 381.8,469.3 382.0,471.1 382.2,468.6 382.5,471.2 382.7,471.3 382.9,468.8 383.1,466.7 383.4,470.6 383.6,470.7 383.8,473.4 384.1,472.3 384.3,471.2 384.5,472.5 384.7,468.4 385.0,469.8 385.2,469.3 385.4,472.4 385.6,470.9 385.9,465.0 386.1,471.3 386.3,468.4 386.5,470.7 386.8,469.0 387.0,469.9 387.2,470.6 387.4,469.9 387.7,468.0 387.9,471.5 388.1,470.3 388.3,469.4 388.6,470.5 388.8,468.6 389.0,472.2 389.3,469.9 389.5,469.8 389.7,469.8 389.9,467.7 390.2,467.0 390.4,469.1 390.6,469.5 390.8,471.0 391.1,469.7 391.3,467.0 391.5,469.2 391.7,469.9 392.0,470.1 392.2,468.9 392.4,466.2 392.6,469.5 392.9,466.8 393.1,468.3 393.3,465.0 393.5,468.1 393.8,465.8 394.0,468.3 394.2,469.5 394.4,468.4 394.7,464.4 394.9,464.1 395.1,464.1 395.4,466.3 395.6,465.9 395.8,465.4 396.0,465.5 396.3,465.9 396.5,466.0 396.7,467.6 396.9,465.0 397.2,465.1 397.4,462.0 397.6,462.5 397.8,463.6 398.1,463.0 398.3,465.2 398.5,466.8 398.7,464.7 399.0,464.4 399.2,464.4 399.4,465.4 399.6,464.5 399.9,465.9 400.1,465.8 400.3,465.8 400.5,466.4 400.8,465.3 401.0,465.2 401.2,467.6 401.5,464.9 401.7,465.8 401.9,464.6 402.1,463.4 402.4,463.1 402.6,462.3 402.8,463.2 403.0,462.1 403.3,462.0 403.5,464.2 403.7,462.0 403.9,463.4 404.2,461.8 404.4,462.1 404.6,459.3 404.8,459.7 405.1,463.1 405.3,460.0 405.5,459.2 405.7,457.1 406.0,457.0 406.2,452.8 406.4,451.6 406.6,452.2 406.9,451.3 407.1,447.5 407.3,445.3 407.6,442.4 407.8,439.6 408.0,434.4 408.2,429.8 408.5,427.1 408.7,419.4 408.9,414.2 409.1,408.1 409.4,400.0 409.6,393.7 409.8,383.9 410.0,374.8 410.3,363.4 410.5,353.4 410.7,345.1 410.9,335.3 411.2,325.1 411.4,318.8 411.6,313.2 411.8,310.1 412.1,312.1 412.3,312.1 412.5,318.9 412.7,327.4 413.0,336.6 413.2,346.5 413.4,361.4 413.7,373.4 413.9,385.0 414.1,396.4 414.3,407.0 414.6,415.2 414.8,425.4 415.0,429.6 415.2,438.3 415.5,441.6 415.7,447.4 415.9,452.8 416.1,454.2 416.4,455.9 416.6,459.2 416.8,459.5 417.0,460.2 417.3,461.1 417.5,464.7 417.7,464.3 417.9,464.3 418.2,462.0 418.4,464.8 418.6,462.4 418.8,465.1 419.1,463.1 419.3,467.8 419.5,462.8 419.8,466.8 420.0,466.8 420.2,462.8 420.4,464.9 420.7,467.9 420.9,467.8 421.1,463.4 421.3,464.8 421.6,464.0 421.8,464.2 422.0,464.9 422.2,468.9 422.5,466.7 422.7,465.9 422.9,465.7 423.1,467.3 423.4,467.5 423.6,465.0 423.8,468.5 424.0,464.9 424.3,465.8 424.5,467.1 424.7,469.2 424.9,466.1 425.2,466.8 425.4,468.4 425.6,467.5 425.9,468.2 426.1,468.1 426.3,466.8 426.5,467.1 426.8,467.6 427.0,466.0 427.2,468.3 427.4,462.8 427.7,463.6 427.9,467.3 428.1,465.9 428.3,463.8 428.6,464.9 428.8,465.9 429.0,463.0 429.2,464.4 429.5,462.8 429.7,462.2 429.9,461.8 430.1,463.2 430.4,459.4 430.6,459.6 430.8,460.9 431.1,457.6 431.3,456.3 431.5,459.2 431.7,458.3 432.0,457.7 432.2,458.0 432.4,456.2 432.6,462.2 432.9,456.8 433.1,457.2 433.3,456.0 433.5,457.7 433.8,461.4 434.0,459.8 434.2,460.9 434.4,459.7 434.7,463.6 434.9,461.9 435.1,459.9 435.3,463.2 435.6,462.2 435.8,463.9 436.0,463.7 436.2,464.1 436.5,464.2 436.7,462.7 436.9,461.8 437.2,465.7 437.4,464.5 437.6,465.0 437.8,464.0 438.1,461.4 438.3,462.3 438.5,466.6 438.7,463.5 439.0,463.7 439.2,462.0 439.4,463.1 439.6,463.4 439.9,463.4 440.1,463.5 440.3,462.4 440.5,462.1 440.8,462.7 441.0,462.9 441.2,461.8 441.4,464.2 441.7,461.5 441.9,460.5 442.1,458.4 442.3,460.0 442.6,456.0 442.8,453.4 443.0,452.9 443.3,453.8 443.5,449.5 443.7,450.9 443.9,446.9 444.2,441.7 444.4,440.6 444.6,440.9 444.8,433.8 445.1,429.2 445.3,428.4 445.5,426.5 445.7,422.8 446.0,417.5 446.2,415.4 446.4,413.6 446.6,413.7 446.9,414.9 447.1,411.9 447.3,414.9 447.5,414.5 447.8,418.1 448.0,418.8 448.2,422.1 448.4,427.6 448.7,429.3 448.9,435.6 449.1,437.2 449.4,441.3 449.6,444.4 449.8,447.0 450.0,450.4 450.3,454.4 450.5,459.9 450.7,455.4 450.9,458.6 451.2,459.5 451.4,459.4 451.6,462.1 451.8,461.3 452.1,463.0 452.3,465.8 452.5,461.3 452.7,464.6 453.0,465.6 453.2,463.7 453.4,465.9 453.6,466.1 453.9,465.1 454.1,467.5 454.3,463.9 454.5,466.6 454.8,465.7 455.0,464.3 455.2,465.6 455.5,465.5 455.7,467.4 455.9,464.0 456.1,465.6 456.4,465.5 456.6,468.7 456.8,464.8 457.0,467.8 457.3,463.8 457.5,466.6 457.7,466.2 457.9,467.0 458.2,465.4 458.4,463.2 458.6,463.7 458.8,468.2 459.1,467.0 459.3,465.1 459.5,467.7 459.7,465.5 460.0,465.2 460.2,464.4 460.4,468.1 460.6,469.8 460.9,465.3 461.1,466.8 461.3,468.1 461.6,470.0 461.8,463.1 462.0,466.3 462.2,467.5 462.5,464.3 462.7,466.9 462.9,466.8 463.1,467.6 463.4,465.7 463.6,467.0 463.8,465.5 464.0,467.3 464.3,466.8 464.5,465.8 464.7,464.1 464.9,468.7 465.2,468.4 465.4,467.9 465.6,465.4 465.8,465.6 466.1,468.8 466.3,467.7 466.5,465.0 466.7,466.1 467.0,466.4 467.2,465.8 467.4,464.6 467.7,467.9 467.9,467.2 468.1,465.8 468.3,463.4 468.6,464.7 468.8,465.8 469.0,467.2 469.2,465.3 469.5,467.4 469.7,466.1 469.9,464.4 470.1,461.0 470.4,463.1 470.6,462.8 470.8,464.8 471.0,465.7 471.3,467.3 471.5,465.2 471.7,463.0 471.9,468.2 472.2,465.5 472.4,464.1 472.6,463.8 472.9,461.9 473.1,464.6 473.3,464.4 473.5,466.0 473.8,465.1 474.0,464.3 474.2,464.5 474.4,461.8 474.7,460.7 474.9,460.8 475.1,458.3 475.3,459.1 475.6,458.2 475.8,458.8 476.0,456.8 476.2,452.4 476.5,453.7 476.7,454.7 476.9,448.1 477.1,447.3 477.4,446.5 477.6,442.3 477.8,440.7 478.0,439.2 478.3,434.3 478.5,433.6 478.7,431.0 479.0,425.3 479.2,424.0 479.4,423.0 479.6,418.5 479.9,416.9 480.1,415.4 480.3,412.6 480.5,413.7 480.8,412.9 481.0,411.4 481.2,415.0 481.4,418.0 481.7,420.7 481.9,421.6 482.1,426.6 482.3,431.9 482.6,434.0 482.8,439.0 483.0,442.9 483.2,444.2 483.5,448.2 483.7,449.7 483.9,454.3 484.1,455.0 484.4,456.1 484.6,458.6 484.8,460.1 485.1,462.1 485.3,463.3 485.5,461.6 485.7,462.9 486.0,465.1 486.2,466.0 486.4,465.8 486.6,470.0 486.9,468.3 487.1,466.4 487.3,467.6 487.5,468.9 487.8,467.6 488.0,464.2 488.2,466.8 488.4,467.1 488.7,470.5 488.9,464.7 489.1,469.4 489.3,467.3 489.6,468.8 489.8,467.1 490.0,467.7 490.2,469.3 490.5,467.9 490.7,469.3 490.9,467.7 491.2,467.0 491.4,467.3 491.6,466.9 491.8,467.5 492.1,469.9 492.3,466.2 492.5,465.0 492.7,467.5 493.0,470.5 493.2,469.8 493.4,470.2 493.6,470.1 493.9,467.0 494.1,468.0 494.3,463.8 494.5,466.5 494.8,468.8 495.0,465.6 495.2,464.5 495.4,465.6 495.7,468.1 495.9,469.9 496.1,472.3 496.3,470.8 496.6,465.9 496.8,464.2 497.0,467.9 497.3,469.8 497.5,465.7 497.7,467.0 497.9,467.3 498.2,468.1 498.4,467.8 498.6,468.9 498.8,469.9 499.1,468.4 499.3,469.3 499.5,471.4 499.7,466.9 500.0,466.3 500.2,468.8 500.4,471.2 500.6,468.8 500.9,469.9 501.1,467.9 501.3,469.6 501.5,467.3 501.8,469.1 502.0,468.9 502.2,468.9 502.4,470.4 502.7,470.1 502.9,467.4 503.1,469.5 503.4,465.6 503.6,469.4 503.8,472.7 504.0,469.5 504.3,469.0 504.5,468.3 504.7,469.5 504.9,467.6 505.2,469.1 505.4,467.8 505.6,467.4 505.8,468.2 506.1,468.0 506.3,465.3 506.5,471.0 506.7,468.6 507.0,465.3 507.2,469.3 507.4,468.0 507.6,468.1 507.9,468.9 508.1,466.4 508.3,462.8 508.5,466.9 508.8,467.8 509.0,469.0 509.2,466.2 509.5,466.6 509.7,467.6 509.9,466.4 510.1,466.2 510.4,466.9 510.6,464.8 510.8,468.4 511.0,464.7 511.3,465.6 511.5,464.9 511.7,464.0 511.9,465.7 512.2,466.3 512.4,466.8 512.6,465.3 512.8,463.2 513.1,464.8 513.3,461.0 513.5,462.7 513.7,463.4 514.0,463.2 514.2,460.2 514.4,459.1 514.7,463.7 514.9,460.6 515.1,458.2 515.3,458.5 515.6,460.3 515.8,462.2 516.0,460.5 516.2,462.1 516.5,460.7 516.7,460.9 516.9,461.8 517.1,459.8 517.4,460.7 517.6,459.9 517.8,459.5 518.0,461.7 518.3,459.8 518.5,461.2 518.7,460.2 518.9,461.4 519.2,461.1 519.4,463.8 519.6,462.7 519.8,462.7 520.1,465.4 520.3,458.7 520.5,460.8 520.8,458.7 521.0,462.8 521.2,464.0 521.4,464.3 521.7,463.6 521.9,461.6 522.1,465.2 522.3,463.0 522.6,461.4 522.8,459.4 523.0,461.1 523.2,459.2 523.5,458.4 523.7,458.6 523.9,457.9 524.1,455.5 524.4,457.7 524.6,453.8 524.8,452.6 525.0,454.4 525.3,454.0 525.5,453.9 525.7,453.2 525.9,454.2 526.2,453.8 526.4,452.7 526.6,457.0 526.9,455.6 527.1,457.4 527.3,460.0 527.5,460.1 527.8,465.2 528.0,460.0 528.2,461.1 528.4,463.3 528.7,466.1 528.9,464.4 529.1,462.8 529.3,467.1 529.6,464.7 529.8,465.7 530.0,467.8 530.2,465.7 530.5,466.0 530.7,467.6 530.9,466.7 531.1,467.5 531.4,465.6 531.6,466.7 531.8,465.4 532.0,464.4 532.3,469.6 532.5,468.1 532.7,468.5 533.0,465.6 533.2,466.7 533.4,466.6 533.6,464.6 533.9,467.4 534.1,465.7 534.3,466.2 534.5,464.2 534.8,467.8 535.0,467.8 535.2,467.1 535.4,464.8 535.7,465.0 535.9,467.7 536.1,465.5 536.3,465.9 536.6,465.6 536.8,463.3 537.0,467.0 537.2,461.6 537.5,464.1 537.7,463.5 537.9,460.5 538.1,462.7 538.4,462.6 538.6,461.1 538.8,458.6 539.1,459.4 539.3,459.5 539.5,456.9 539.7,457.6 540.0,454.8 540.2,452.8 540.4,451.8 540.6,446.7 540.9,444.5 541.1,444.0 541.3,442.1 541.5,441.7 541.8,439.5 542.0,436.3 542.2,435.0 542.4,433.5 542.7,433.0 542.9,433.1 543.1,435.9 543.3,435.1 543.6,436.5 543.8,439.1 544.0,440.1 544.2,442.5 544.5,441.7 544.7,447.6 544.9,449.1 545.2,451.9 545.4,454.3 545.6,452.7 545.8,460.8 546.1,459.6 546.3,460.6 546.5,458.8 546.7,463.3 547.0,464.4 547.2,463.9 547.4,465.5 547.6,467.8 547.9,465.9 548.1,465.1 548.3,468.9 548.5,467.9 548.8,467.2 549.0,471.2 549.2,468.4 549.4,467.7 549.7,468.4 549.9,467.5 550.1,468.5 550.3,468.5 550.6,467.3 550.8,467.9 551.0,468.9 551.3,469.1 551.5,469.5 551.7,469.9 551.9,469.1 552.2,469.5 552.4,468.1 552.6,468.2 552.8,470.3 553.1,465.8 553.3,469.0 553.5,473.8 553.7,466.4 554.0,470.8 554.2,466.3 554.4,469.1 554.6,471.4 554.9,471.4 555.1,467.6 555.3,466.6 555.5,466.3 555.8,469.7 556.0,468.3 556.2,468.8 556.5,469.2 556.7,469.5 556.9,469.7 557.1,469.1 557.4,466.3 557.6,470.8 557.8,464.7 558.0,470.3 558.3,468.0 558.5,468.3 558.7,467.9 558.9,468.0 559.2,468.6 559.4,468.2 559.6,466.8 559.8,469.6 560.1,467.6 560.3,470.3 560.5,468.1 560.7,466.9 561.0,468.4 561.2,469.1 561.4,466.1 561.6,466.6 561.9,469.1 562.1,465.2 562.3,464.7 562.6,466.0 562.8,463.5 563.0,460.9 563.2,461.4 563.5,464.3 563.7,464.6 563.9,464.0 564.1,463.1 564.4,460.0 564.6,462.2 564.8,462.8 565.0,459.6 565.3,461.4 565.5,459.3 565.7,459.8 565.9,460.0 566.2,457.1 566.4,461.5 566.6,458.5 566.8,459.5 567.1,459.3 567.3,461.2 567.5,461.7 567.7,461.6 568.0,464.3 568.2,463.3 568.4,462.6 568.7,459.1 568.9,463.4 569.1,464.4 569.3,464.0 569.6,464.4 569.8,467.2 570.0,468.6 570.2,470.4 570.5,469.8 570.7,467.1 570.9,468.6 571.1,466.5 571.4,469.7 571.6,469.7 571.8,468.3 572.0,469.1 572.3,469.1 572.5,468.6 572.7,471.7 572.9,474.9 573.2,471.7 573.4,471.8 573.6,470.4 573.8,469.5 574.1,473.5 574.3,469.9 574.5,470.7 574.8,470.1 575.0,471.1 575.2,470.3 575.4,471.2 575.7,468.4 575.9,470.0 576.1,472.5 576.3,469.0 576.6,469.2 576.8,472.5 577.0,471.3 577.2,472.2 577.5,467.2 577.7,470.4 577.9,468.6 578.1,468.1 578.4,471.0 578.6,472.5 578.8,468.5 579.0,468.6 579.3,469.5 579.5,470.4 579.7,468.6 579.9,474.0 580.2,472.0 580.4,470.3 580.6,469.9 580.9,474.3 581.1,474.7 581.3,470.4 581.5,471.3 581.8,472.9 582.0,469.2 582.2,469.7 582.4,472.9 582.7,470.0 582.9,470.1 583.1,468.7 583.3,469.5 583.6,471.9 583.8,469.8 584.0,468.7 584.2,469.7 584.5,473.7 584.7,471.6 584.9,470.1 585.1,471.1 585.4,471.7 585.6,471.3 585.8,468.2 586.0,471.2 586.3,470.8 586.5,472.3 586.7,469.1 587.0,472.5 587.2,470.5 587.4,468.3 587.6,472.9 587.9,470.5 588.1,471.6 588.3,470.9 588.5,472.8 588.8,473.1 589.0,473.1 589.2,472.5 589.4,468.7 589.7,468.2 589.9,471.2 590.1,469.7 590.3,471.7 590.6,471.5 590.8,468.9 591.0,469.2 591.2,469.1 591.5,469.5 591.7,470.6 591.9,472.1 592.2,473.3 592.4,469.8 592.6,470.0 592.8,473.4 593.1,472.6 593.3,471.4 593.5,467.1 593.7,468.7 594.0,470.7 594.2,469.7 594.4,473.5 594.6,470.8 594.9,470.6 595.1,468.3 595.3,467.9 595.5,468.3 595.8,468.2 596.0,468.6 596.2,469.4 596.4,469.0 596.7,470.0 596.9,466.1 597.1,467.9 597.3,468.0 597.6,469.9 597.8,467.0 598.0,467.4 598.3,465.6 598.5,467.2 598.7,467.4 598.9,465.8 599.2,466.0 599.4,466.8 599.6,468.0 599.8,465.6 600.1,468.7 600.3,467.4 600.5,471.0 600.7,471.0 601.0,468.2 601.2,467.8 601.4,473.0 601.6,470.9 601.9,470.7 602.1,469.3 602.3,469.8 602.5,471.5 602.8,471.5 603.0,469.2 603.2,472.3 603.4,471.3 603.7,469.1 603.9,472.0 604.1,470.4 604.4,471.7 604.6,469.6 604.8,470.7 605.0,467.6 605.3,470.2 605.5,467.4 605.7,469.5 605.9,465.3 606.2,468.5 606.4,469.9 606.6,469.3 606.8,470.1 607.1,466.3 607.3,469.8 607.5,470.0 607.7,465.2 608.0,465.1 608.2,465.2 608.4,465.9 608.6,466.1 608.9,461.8 609.1,466.0 609.3,465.1 609.5,463.8 609.8,466.8 610.0,465.2 610.2,467.4 610.5,466.9 610.7,465.7 610.9,468.2 611.1,468.1 611.4,466.3 611.6,464.7 611.8,466.5 612.0,468.9 612.3,468.1 612.5,471.5 612.7,469.8 612.9,469.7 613.2,470.4 613.4,468.7 613.6,469.9 613.8,469.5 614.1,466.9 614.3,467.8 614.5,472.1 614.7,470.8 615.0,471.3 615.2,469.3 615.4,470.6 615.6,473.1 615.9,472.3 616.1,471.3 616.3,474.5 616.6,472.4 616.8,471.7 617.0,474.1 617.2,469.8 617.5,473.0 617.7,470.8 617.9,471.0 618.1,471.3 618.4,472.6 618.6,472.7 618.8,473.1 619.0,472.9 619.3,474.8 619.5,475.5 619.7,474.0 619.9,473.9 620.2,472.1 620.4,470.8 620.6,473.4 620.8,472.8 621.1,474.0 621.3,469.9 621.5,476.6 621.7,471.1 622.0,472.5 622.2,474.2 622.4,470.6 622.7,471.5 622.9,469.3 623.1,470.0 623.3,469.3 623.6,472.5 623.8,473.1 624.0,472.2 624.2,474.6 624.5,475.1 624.7,472.9 624.9,472.3 625.1,472.2 625.4,471.9 625.6,474.7 625.8,473.3 626.0,472.2 626.3,472.3 626.5,473.5 626.7,472.1 626.9,473.1 627.2,472.7 627.4,474.8 627.6,474.8 627.8,470.6 628.1,472.2 628.3,473.8 628.5,472.1 628.8,473.9 629.0,473.4 629.2,473.7 629.4,472.7 629.7,473.2 629.9,473.6 630.1,470.5 630.3,471.0 630.6,470.9 630.8,475.2 631.0,473.5 631.2,473.3 631.5,473.0 631.7,471.9 631.9,471.4 632.1,473.9 632.4,472.3 632.6,475.1 632.8,473.3 633.0,472.9 633.3,472.4 633.5,472.5 633.7,472.7 634.0,475.1 634.2,476.7 634.4,471.3 634.6,472.9 634.9,473.9 635.1,471.4 635.3,471.5 635.5,471.9 635.8,468.8 636.0,473.3 636.2,472.7 636.4,472.5 636.7,472.8 636.9,473.1 637.1,476.4 637.3,473.4 637.6,474.0 637.8,472.0 638.0,473.2 638.2,472.3 638.5,472.4 638.7,471.2 638.9,471.2 639.1,473.3 639.4,474.0 639.6,473.6 639.8,471.7 640.1,473.1 640.3,468.7 640.5,473.7 640.7,472.8 641.0,473.1 641.2,474.6 641.4,472.2 641.6,474.1 641.9,472.2 642.1,473.5 642.3,472.1 642.5,473.1 642.8,475.0 643.0,471.9 643.2,471.6 643.4,472.1 643.7,473.1 643.9,477.1 644.1,472.3 644.3,469.4 644.6,471.3 644.8,470.1 645.0,471.5 645.2,472.6 645.5,471.2 645.7,471.4 645.9,469.6 646.2,472.6 646.4,471.5 646.6,474.3 646.8,474.5 647.1,471.5 647.3,471.9 647.5,472.7 647.7,473.9 648.0,470.2 648.2,472.3 648.4,475.6 648.6,472.9 648.9,473.0 649.1,472.7 649.3,470.8 649.5,473.9 649.8,473.2 650.0,473.0 650.2,473.8 650.4,474.0 650.7,469.8 650.9,473.1 651.1,471.8 651.3,472.8 651.6,471.5 651.8,471.1 652.0,474.0 652.3,472.8 652.5,472.2 652.7,472.1 652.9,472.7 653.2,472.6 653.4,468.9 653.6,470.8 653.8,472.1 654.1,473.7 654.3,474.9 654.5,471.3 654.7,475.5 655.0,473.0 655.2,473.3 655.4,471.8 655.6,471.5 655.9,474.7 656.1,472.4 656.3,472.3 656.5,474.3 656.8,475.4 657.0,470.4 657.2,471.9 657.4,472.4 657.7,475.3 657.9,476.6 658.1,472.8 658.4,473.0 658.6,473.8 658.8,474.3 659.0,472.0 659.3,473.6 659.5,471.3 659.7,467.9 659.9,469.6 660.2,472.3 660.4,473.5 660.6,468.7 660.8,468.9 661.1,471.7 661.3,466.7 661.5,472.3 661.7,473.6 662.0,467.3 662.2,472.5 662.4,471.5 662.6,473.8 662.9,472.2 663.1,471.1 663.3,471.4 663.5,472.6 663.8,471.4 664.0,470.9 664.2,468.3 664.5,470.8 664.7,470.1 664.9,472.6 665.1,469.6 665.4,468.8 665.6,467.5 665.8,469.1 666.0,467.3 666.3,465.8 666.5,468.7 666.7,468.8 666.9,464.6 667.2,462.6 667.4,465.1 667.6,461.6 667.8,466.2 668.1,461.4 668.3,461.8 668.5,457.7 668.7,458.5 669.0,459.9 669.2,458.5 669.4,456.3 669.6,460.5 669.9,458.1 670.1,456.2 670.3,455.5 670.6,456.1 670.8,459.1 671.0,456.5 671.2,457.9 671.5,457.3 671.7,461.1 671.9,460.0 672.1,462.2 672.4,462.7 672.6,461.7 672.8,464.3 673.0,465.7 673.3,463.3 673.5,466.6 673.7,472.1 673.9,467.2 674.2,468.6 674.4,466.3 674.6,469.3 674.8,468.4 675.1,470.8 675.3,470.1 675.5,468.5 675.8,472.3 676.0,470.8 676.2,469.6 676.4,471.3 676.7,470.0 676.9,472.2 677.1,471.8 677.3,471.3 677.6,473.0 677.8,470.2 678.0,473.4 678.2,469.2 678.5,474.4 678.7,472.8 678.9,471.9 679.1,471.1 679.4,473.1 679.6,472.2 679.8,472.0 680.0,474.0 680.3,471.9 680.5,471.9 680.7,473.0 680.9,474.2 681.2,472.3 681.4,472.6 681.6,472.5 681.9,473.6 682.1,474.9 682.3,471.2 682.5,472.0 682.8,472.3 683.0,473.3 683.2,474.9 683.4,472.6 683.7,472.7 683.9,474.2 684.1,470.6 684.3,470.9 684.6,471.5 684.8,472.3 685.0,472.7 685.2,471.6 685.5,475.1 685.7,471.6 685.9,471.9 686.1,474.1 686.4,473.8 686.6,472.5 686.8,472.9 687.0,473.7 687.3,472.5 687.5,473.4 687.7,471.0 688.0,472.3 688.2,469.7 688.4,470.6 688.6,470.3 688.9,474.1 689.1,471.8 689.3,472.7 689.5,470.9 689.8,471.8 690.0,471.8 690.2,470.8 690.4,473.5 690.7,469.7 690.9,472.9 691.1,476.6 691.3,471.4 691.6,472.1 691.8,469.7 692.0,471.9 692.2,469.4 692.5,472.9 692.7,471.5 692.9,469.1 693.1,469.7 693.4,469.3 693.6,471.4"/>
<polyline id="abs-blue" stroke="#0c4699" stroke-width="3" points="796.1,375.5 797.6,375.9 799.1,376.4 800.6,376.8 802.1,377.2 803.6,377.7 805.1,378.1 806.6,378.5 808.1,378.9 809.6,379.3 811.1,379.7 812.6,380.0 814.1,380.4 815.6,380.7 817.1,381.1 818.6,381.4 820.1,381.7 821.6,382.0 823.1,382.3 824.6,382.6 826.1,382.8 827.6,383.1 829.1,383.3 830.6,383.5 832.1,383.8 833.6,384.0 835.1,384.1 836.6,384.3 838.1,384.5 839.6,384.6 841.1,384.7 842.6,384.8 844.1,384.9 845.6,385.0 847.1,385.0 848.6,385.1 850.1,385.1 851.6,385.1 853.1,385.1 854.6,385.1 856.1,385.0 857.6,385.0 859.1,385.0 860.6,385.0 862.1,385.0 863.6,385.0 865.1,385.1 866.6,385.3 868.1,385.4 869.6,385.6 871.1,385.9 872.6,386.2 874.1,386.5 875.6,386.8 877.1,387.2 878.6,387.6 880.1,387.9 881.6,388.3 883.1,388.7 884.6,389.1 886.1,389.5 887.6,389.8 889.1,390.1 890.6,390.4 892.1,390.7 893.6,391.0 895.1,391.2 896.6,391.4 898.1,391.6 899.6,391.8 901.1,392.0 902.6,392.2 904.1,392.3 905.6,392.4 907.1,392.6 908.6,392.7 910.1,392.8 911.6,392.9 913.1,393.0 914.6,393.0 916.1,393.1 917.6,393.2 919.1,393.2 920.6,393.3 922.1,393.4 923.6,393.4 925.1,393.5 926.6,393.6 928.1,393.6 929.6,393.7 931.1,393.8 932.6,393.9 934.1,394.0 935.6,394.0 937.1,394.1 938.6,394.2 940.1,394.3 941.6,394.4 943.1,394.5 944.6,394.6 946.1,394.7 947.6,394.9 949.1,395.0 950.6,395.1 952.1,395.2 953.6,395.3 955.1,395.4 956.6,395.5 958.1,395.6 959.6,395.7 961.1,395.9 962.6,396.0 964.1,396.1 965.6,396.2 967.1,396.3 968.6,396.4 970.1,396.5 971.6,396.6 973.1,396.7 974.6,396.8 976.1,396.9 977.6,397.0 979.1,397.1 980.6,397.1 982.1,397.2 983.6,397.3 985.1,397.3 986.6,397.4 988.1,397.5 989.6,397.5 991.1,397.6 992.6,397.6 994.1,397.7 995.6,397.7 997.1,397.8 998.6,397.8 1000.1,397.8 1001.6,397.9 1003.1,397.9 1004.6,397.9 1006.1,397.9 1007.6,398.0 1009.1,398.0 1010.6,398.0 1012.1,398.0 1013.6,398.0 1015.1,398.0 1016.6,398.0 1018.1,398.1 1019.6,398.1 1021.1,398.1 1022.6,398.1 1024.1,398.1 1025.6,398.1 1027.1,398.1 1028.6,398.1 1030.1,398.1 1031.6,398.1 1033.1,398.1 1034.6,398.1 1036.1,398.1 1037.6,398.0 1039.1,398.0 1040.6,398.0 1042.1,398.0 1043.6,398.0 1045.1,398.0 1046.6,398.0 1048.1,398.0 1049.6,398.0 1051.1,398.0 1052.6,398.0 1054.1,398.0 1055.6,398.0 1057.1,398.0 1058.6,398.0 1060.1,397.9 1061.6,397.9 1063.1,397.9 1064.6,397.9 1066.1,397.9 1067.6,397.9 1069.1,397.9 1070.6,397.9 1072.1,397.9 1073.6,397.9 1075.1,397.9 1076.6,397.9 1078.1,397.9 1079.6,397.9 1081.1,398.0 1082.6,398.0 1084.1,398.0 1085.6,398.0 1087.1,398.0 1088.6,398.0 1090.1,398.0 1091.6,398.0 1093.1,398.0 1094.6,398.0 1096.1,398.0 1097.6,398.0 1099.1,398.0 1100.6,398.0 1102.1,398.1 1103.6,398.1 1105.1,398.1 1106.6,398.1 1108.1,398.1 1109.6,398.1 1111.1,398.1 1112.6,398.2 1114.1,398.2 1115.6,398.2 1117.1,398.2 1118.6,398.2 1120.1,398.2 1121.6,398.3 1123.1,398.3 1124.6,398.3 1126.1,398.3 1127.6,398.3 1129.1,398.4 1130.6,398.4 1132.1,398.4 1133.6,398.4 1135.1,398.5 1136.6,398.5 1138.1,398.5 1139.6,398.5 1141.1,398.6 1142.6,398.6 1144.1,398.6 1145.6,398.7 1147.1,398.7 1148.6,398.7 1150.1,398.7 1151.6,398.8 1153.1,398.8 1154.6,398.8 1156.1,398.9 1157.6,398.9 1159.1,398.9 1160.6,398.9 1162.1,399.0 1163.6,399.0 1165.1,399.0 1166.6,399.1 1168.1,399.1 1169.6,399.1 1171.1,399.1 1172.6,399.2 1174.1,399.2 1175.6,399.2 1177.1,399.2 1178.6,399.2 1180.1,399.2 1181.6,399.3 1183.1,399.3 1184.6,399.3 1186.1,399.3 1187.6,399.3 1189.1,399.3 1190.6,399.3 1192.1,399.3 1193.6,399.3 1195.1,399.3 1196.6,399.3 1198.1,399.3 1199.6,399.3 1201.1,399.3 1202.6,399.2 1204.1,399.2 1205.6,399.2 1207.1,399.2 1208.6,399.1 1210.1,399.1 1211.6,399.1 1213.1,399.0 1214.6,399.0 1216.1,399.0 1217.6,398.9 1219.1,398.9 1220.6,398.8 1222.1,398.7 1223.6,398.7 1225.1,398.6 1226.6,398.5 1228.1,398.5 1229.6,398.4 1231.1,398.3 1232.6,398.2 1234.1,398.2 1235.6,398.1 1237.1,398.0 1238.6,398.0 1240.1,397.9 1241.6,397.8 1243.1,397.8 1244.6,397.7 1246.1,397.7 1247.6,397.7 1249.1,397.7 1250.6,397.7 1252.1,397.7 1253.6,397.7 1255.1,397.7 1256.6,397.7 1258.1,397.8 1259.6,397.9 1261.1,398.0 1262.6,398.1 1264.1,398.2 1265.6,398.3 1267.1,398.5 1268.6,398.7 1270.1,399.0 1271.6,399.3 1273.1,399.7 1274.6,400.2 1276.1,400.8 1277.6,401.5 1279.1,402.3 1280.6,403.2 1282.1,404.2 1283.6,405.3 1285.1,406.5 1286.6,407.7 1288.1,409.0 1289.6,410.3 1291.1,411.6 1292.6,412.9 1294.1,414.2 1295.6,415.4 1297.1,416.7 1298.6,417.8 1300.1,418.9 1301.6,420.0 1303.1,421.0 1304.6,422.0 1306.1,422.9 1307.6,423.8 1309.1,424.7 1310.6,425.5 1312.1,426.2 1313.6,427.0 1315.1,427.7 1316.6,428.3 1318.1,429.0 1319.6,429.6 1321.1,430.1 1322.6,430.7 1324.1,431.2 1325.6,431.7 1327.1,432.2 1328.6,432.6 1330.1,433.1 1331.6,433.5 1333.1,433.9 1334.6,434.3 1336.1,434.6 1337.6,435.0 1339.1,435.3 1340.6,435.7 1342.1,436.0 1343.6,436.3 1345.1,436.6 1346.6,437.0 1348.1,437.3 1349.6,437.6 1351.1,437.9 1352.6,438.2 1354.1,438.5 1355.6,438.8 1357.1,439.2 1358.6,439.5 1360.1,439.8 1361.6,440.1 1363.1,440.4 1364.6,440.7 1366.1,441.0 1367.6,441.3 1369.1,441.6 1370.6,441.9 1372.1,442.2 1373.6,442.5 1375.1,442.8 1376.6,443.1 1378.1,443.4 1379.6,443.7 1381.1,444.0 1382.6,444.2 1384.1,444.5 1385.6,444.8 1387.1,445.1 1388.6,445.3 1390.1,445.6 1391.6,445.8 1393.1,446.1 1394.6,446.3 1396.1,446.6 1397.6,446.8 1399.1,447.0 1400.6,447.3 1402.1,447.5 1403.6,447.7 1405.1,447.9 1406.6,448.1 1408.1,448.3 1409.6,448.5 1411.1,448.7 1412.6,448.8 1414.1,449.0 1415.6,449.2 1417.1,449.3 1418.6,449.5 1420.1,449.6 1421.6,449.7 1423.1,449.8 1424.6,450.0 1426.1,450.1 1427.6,450.2 1428.0,450.2"/>
<polyline id="abs-red" stroke="#d41f40" stroke-width="3" points="796.1,182.1 797.6,182.9 799.1,183.6 800.6,184.4 802.1,185.3 803.6,186.1 805.1,186.9 806.6,187.7 808.1,188.5 809.6,189.3 811.1,190.1 812.6,190.8 814.1,191.6 815.6,192.4 817.1,193.1 818.6,193.8 820.1,194.5 821.6,195.2 823.1,195.9 824.6,196.5 826.1,197.1 827.6,197.7 829.1,198.2 830.6,198.8 832.1,199.3 833.6,199.7 835.1,200.1 836.6,200.5 838.1,200.9 839.6,201.2 841.1,201.4 842.6,201.7 844.1,201.9 845.6,202.1 847.1,202.2 848.6,202.3 850.1,202.3 851.6,202.4 853.1,202.3 854.6,202.3 856.1,202.2 857.6,202.1 859.1,202.0 860.6,202.0 862.1,201.9 863.6,201.9 865.1,201.9 866.6,202.0 868.1,202.1 869.6,202.3 871.1,202.6 872.6,202.9 874.1,203.3 875.6,203.7 877.1,204.1 878.6,204.5 880.1,205.0 881.6,205.4 883.1,205.9 884.6,206.3 886.1,206.7 887.6,207.2 889.1,207.6 890.6,208.0 892.1,208.3 893.6,208.7 895.1,209.0 896.6,209.3 898.1,209.6 899.6,209.9 901.1,210.1 902.6,210.3 904.1,210.6 905.6,210.8 907.1,211.0 908.6,211.2 910.1,211.4 911.6,211.5 913.1,211.7 914.6,211.9 916.1,212.1 917.6,212.2 919.1,212.4 920.6,212.6 922.1,212.8 923.6,212.9 925.1,213.1 926.6,213.3 928.1,213.5 929.6,213.8 931.1,214.0 932.6,214.2 934.1,214.5 935.6,214.7 937.1,215.0 938.6,215.3 940.1,215.6 941.6,215.9 943.1,216.2 944.6,216.5 946.1,216.8 947.6,217.2 949.1,217.5 950.6,217.9 952.1,218.2 953.6,218.6 955.1,219.0 956.6,219.4 958.1,219.8 959.6,220.2 961.1,220.6 962.6,221.1 964.1,221.5 965.6,221.9 967.1,222.4 968.6,222.9 970.1,223.4 971.6,223.9 973.1,224.4 974.6,224.9 976.1,225.4 977.6,225.9 979.1,226.5 980.6,227.0 982.1,227.6 983.6,228.2 985.1,228.8 986.6,229.4 988.1,230.0 989.6,230.6 991.1,231.2 992.6,231.9 994.1,232.5 995.6,233.2 997.1,233.9 998.6,234.6 1000.1,235.4 1001.6,236.1 1003.1,236.8 1004.6,237.6 1006.1,238.4 1007.6,239.2 1009.1,240.0 1010.6,240.9 1012.1,241.7 1013.6,242.6 1015.1,243.5 1016.6,244.4 1018.1,245.3 1019.6,246.3 1021.1,247.2 1022.6,248.2 1024.1,249.2 1025.6,250.2 1027.1,251.3 1028.6,252.3 1030.1,253.4 1031.6,254.4 1033.1,255.5 1034.6,256.6 1036.1,257.7 1037.6,258.8 1039.1,260.0 1040.6,261.1 1042.1,262.2 1043.6,263.4 1045.1,264.5 1046.6,265.6 1048.1,266.8 1049.6,267.9 1051.1,269.1 1052.6,270.2 1054.1,271.3 1055.6,272.5 1057.1,273.6 1058.6,274.7 1060.1,275.8 1061.6,276.9 1063.1,278.0 1064.6,279.1 1066.1,280.2 1067.6,281.2 1069.1,282.3 1070.6,283.3 1072.1,284.4 1073.6,285.4 1075.1,286.4 1076.6,287.4 1078.1,288.4 1079.6,289.4 1081.1,290.3 1082.6,291.3 1084.1,292.3 1085.6,293.2 1087.1,294.2 1088.6,295.1 1090.1,296.0 1091.6,296.9 1093.1,297.8 1094.6,298.7 1096.1,299.6 1097.6,300.5 1099.1,301.3 1100.6,302.2 1102.1,303.0 1103.6,303.9 1105.1,304.7 1106.6,305.5 1108.1,306.4 1109.6,307.2 1111.1,308.0 1112.6,308.8 1114.1,309.6 1115.6,310.3 1117.1,311.1 1118.6,311.9 1120.1,312.6 1121.6,313.4 1123.1,314.1 1124.6,314.9 1126.1,315.6 1127.6,316.3 1129.1,317.1 1130.6,317.8 1132.1,318.5 1133.6,319.2 1135.1,319.9 1136.6,320.6 1138.1,321.3 1139.6,322.0 1141.1,322.6 1142.6,323.3 1144.1,324.0 1145.6,324.6 1147.1,325.3 1148.6,325.9 1150.1,326.6 1151.6,327.2 1153.1,327.9 1154.6,328.5 1156.1,329.1 1157.6,329.7 1159.1,330.3 1160.6,330.9 1162.1,331.5 1163.6,332.1 1165.1,332.7 1166.6,333.3 1168.1,333.8 1169.6,334.4 1171.1,335.0 1172.6,335.5 1174.1,336.1 1175.6,336.6 1177.1,337.1 1178.6,337.6 1180.1,338.2 1181.6,338.7 1183.1,339.2 1184.6,339.7 1186.1,340.1 1187.6,340.6 1189.1,341.1 1190.6,341.6 1192.1,342.0 1193.6,342.5 1195.1,342.9 1196.6,343.3 1198.1,343.8 1199.6,344.2 1201.1,344.6 1202.6,345.0 1204.1,345.4 1205.6,345.8 1207.1,346.1 1208.6,346.5 1210.1,346.9 1211.6,347.2 1213.1,347.6 1214.6,347.9 1216.1,348.2 1217.6,348.6 1219.1,348.9 1220.6,349.2 1222.1,349.5 1223.6,349.8 1225.1,350.2 1226.6,350.5 1228.1,350.8 1229.6,351.1 1231.1,351.5 1232.6,351.8 1234.1,352.2 1235.6,352.5 1237.1,352.9 1238.6,353.3 1240.1,353.7 1241.6,354.1 1243.1,354.5 1244.6,355.0 1246.1,355.5 1247.6,356.2 1249.1,356.9 1250.6,357.7 1252.1,358.6 1253.6,359.7 1255.1,360.9 1256.6,362.3 1258.1,363.9 1259.6,365.5 1261.1,367.4 1262.6,369.4 1264.1,371.6 1265.6,374.0 1267.1,376.6 1268.6,379.4 1270.1,382.3 1271.6,385.5 1273.1,388.9 1274.6,392.4 1276.1,396.1 1277.6,399.9 1279.1,403.7 1280.6,407.5 1282.1,411.4 1283.6,415.2 1285.1,418.9 1286.6,422.5 1288.1,426.1 1289.6,429.5 1291.1,432.8 1292.6,435.9 1294.1,438.9 1295.6,441.7 1297.1,444.4 1298.6,446.9 1300.1,449.1 1301.6,451.2 1303.1,453.2 1304.6,454.9 1306.1,456.6 1307.6,458.0 1309.1,459.4 1310.6,460.6 1312.1,461.7 1313.6,462.7 1315.1,463.7 1316.6,464.5 1318.1,465.2 1319.6,465.9 1321.1,466.5 1322.6,467.0 1324.1,467.5 1325.6,467.9 1327.1,468.2 1328.6,468.6 1330.1,468.9 1331.6,469.1 1333.1,469.4 1334.6,469.6 1336.1,469.7 1337.6,469.9 1339.1,470.0 1340.6,470.1 1342.1,470.2 1343.6,470.3 1345.1,470.3 1346.6,470.4 1348.1,470.4 1349.6,470.4 1351.1,470.3 1352.6,470.3 1354.1,470.2 1355.6,470.2 1357.1,470.1 1358.6,470.0 1360.1,470.0 1361.6,469.9 1363.1,469.8 1364.6,469.7 1366.1,469.6 1367.6,469.5 1369.1,469.4 1370.6,469.3 1372.1,469.2 1373.6,469.1 1375.1,469.0 1376.6,468.9 1378.1,468.8 1379.6,468.7 1381.1,468.7 1382.6,468.6 1384.1,468.6 1385.6,468.5 1387.1,468.5 1388.6,468.5 1390.1,468.4 1391.6,468.4 1393.1,468.4 1394.6,468.4 1396.1,468.4 1397.6,468.4 1399.1,468.4 1400.6,468.5 1402.1,468.5 1403.6,468.5 1405.1,468.5 1406.6,468.6 1408.1,468.6 1409.6,468.6 1411.1,468.7 1412.6,468.7 1414.1,468.7 1415.6,468.8 1417.1,468.8 1418.6,468.9 1420.1,468.9 1421.6,468.9 1423.1,469.0 1424.6,469.0 1426.1,469.1 1427.6,469.1 1428.0,469.1"/>
<line x1="1210.9" x2="1269" y1="48.3" y2="48.3" stroke="#0c4699" stroke-width="3"/>
<line x1="1210.9" x2="1269" y1="88" y2="88" stroke="#d41f40" stroke-width="3"/>
</g>
<g fill="none" stroke="#000">
<line x1="184.8" x2="184.8" y1="204" y2="493.9" stroke-width="2.2" stroke-dasharray="7.4 3.9"/>
<path d="M837.5,145.85 H906.07 V499.3 M837.5,145.85 V499.3 M836.8,499.2 H906.07" stroke-width="2.3" stroke-dasharray="5.2 6.36" stroke-linecap="square"/>
</g>
<g stroke="#000" stroke-width="3.1" fill="none">
<rect x="60.95" y="1.4" width="632.65" height="498.10"/>
<rect x="795.6" y="2.5" width="632.70" height="498.80"/>
<line x1="151.33" x2="151.33" y1="499.5" y2="508.9"/><line x1="332.09" x2="332.09" y1="499.5" y2="508.9"/><line x1="512.84" x2="512.84" y1="499.5" y2="508.9"/><line x1="693.60" x2="693.60" y1="499.5" y2="508.9"/><line x1="60.95" x2="60.95" y1="499.5" y2="504.4"/><line x1="241.71" x2="241.71" y1="499.5" y2="504.4"/><line x1="422.46" x2="422.46" y1="499.5" y2="504.4"/><line x1="603.22" x2="603.22" y1="499.5" y2="504.4"/>
<line x1="865.90" x2="865.90" y1="501.3" y2="510.4"/><line x1="1006.50" x2="1006.50" y1="501.3" y2="510.4"/><line x1="1147.10" x2="1147.10" y1="501.3" y2="510.4"/><line x1="1287.70" x2="1287.70" y1="501.3" y2="510.4"/><line x1="1428.30" x2="1428.30" y1="501.3" y2="510.4"/><line x1="795.60" x2="795.60" y1="501.3" y2="505.9"/><line x1="936.20" x2="936.20" y1="501.3" y2="505.9"/><line x1="1076.80" x2="1076.80" y1="501.3" y2="505.9"/><line x1="1217.40" x2="1217.40" y1="501.3" y2="505.9"/><line x1="1358.00" x2="1358.00" y1="501.3" y2="505.9"/>
</g>
</g>
<g id="txt" font-family='"Liberation Serif", serif' fill="#000">
<text id="la" transform="translate(88.20,52.00) scale(1.18,1)" font-size="33" textLength="40.00" lengthAdjust="spacing" >(a)</text>
<text id="lb" transform="translate(823.20,50.00) scale(1.18,1)" font-size="33" textLength="41.69" lengthAdjust="spacing" >(b)</text>
<text id="dph1" transform="translate(69.40,228.60) scale(0.818,1)" font-size="33" textLength="15.40" lengthAdjust="spacing" font-style="italic">δ</text>
<text id="dph2" transform="translate(96.00,228.60) scale(1.18,1)" font-size="33" textLength="70.01" lengthAdjust="spacing" >phase</text>
<text id="eu1" transform="translate(554.00,220.90) scale(1.18,1)" font-size="33" textLength="73.73" lengthAdjust="spacing" >EuBr</text>
<text id="eu1s" transform="translate(642.00,225.70) scale(1.158,1)" font-size="23" textLength="9.33" lengthAdjust="spacing" >2</text>
<text id="ct1" transform="translate(544.80,427.80) scale(1.18,1)" font-size="33" textLength="106.27" lengthAdjust="spacing" >Control</text>
<text id="ct2" transform="translate(1275.00,57.40) scale(1.18,1)" font-size="33" textLength="105.93" lengthAdjust="spacing" >Control</text>
<text id="eu2" transform="translate(1276.00,96.20) scale(1.18,1)" font-size="33" textLength="73.74" lengthAdjust="spacing" >EuBr</text>
<text id="eu2s" transform="translate(1363.60,101.50) scale(1.111,1)" font-size="23" textLength="9.45" lengthAdjust="spacing" >2</text>
<text id="ta10" transform="translate(133.40,540.50) scale(1.18,1)" font-size="32" textLength="33.05" lengthAdjust="spacing" >10</text>
<text id="ta20" transform="translate(313.60,540.50) scale(1.18,1)" font-size="32" textLength="32.86" lengthAdjust="spacing" >20</text>
<text id="ta30" transform="translate(495.20,540.50) scale(1.18,1)" font-size="32" textLength="32.03" lengthAdjust="spacing" >30</text>
<text id="ta40" transform="translate(676.20,540.50) scale(1.18,1)" font-size="32" textLength="31.53" lengthAdjust="spacing" >40</text>
<text id="tb500" transform="translate(839.60,541.80) scale(1.18,1)" font-size="32" textLength="48.97" lengthAdjust="spacing" >500</text>
<text id="tb600" transform="translate(979.60,541.80) scale(1.18,1)" font-size="32" textLength="48.81" lengthAdjust="spacing" >600</text>
<text id="tb700" transform="translate(1120.80,541.80) scale(1.18,1)" font-size="32" textLength="47.80" lengthAdjust="spacing" >700</text>
<text id="tb800" transform="translate(1261.60,541.80) scale(1.18,1)" font-size="32" textLength="47.81" lengthAdjust="spacing" >800</text>
<text id="tb900" transform="translate(1402.60,541.80) scale(1.18,1)" font-size="32" textLength="47.81" lengthAdjust="spacing" >900</text>
<text id="xa1" transform="translate(378.00,575.50) scale(1.057,1)" font-size="33" textLength="13.43" lengthAdjust="spacing" >2</text>
<text id="xa1t" transform="translate(395.40,575.50) scale(1.037,1)" font-size="33" textLength="14.18" lengthAdjust="spacing" font-style="italic">θ</text>
<text id="xa2" transform="translate(422.20,575.50) scale(1.046,1)" font-size="33" textLength="8.51" lengthAdjust="spacing" >(</text>
<text id="xa3" transform="translate(435.80,569.00) scale(1.057,1)" font-size="23" textLength="7.28" lengthAdjust="spacing" >°</text>
<text id="xa4" transform="translate(447.60,575.50) scale(1.058,1)" font-size="33" textLength="8.41" lengthAdjust="spacing" >)</text>
<text id="xb" transform="translate(988.00,587.80) scale(1.18,1)" font-size="33" textLength="160.17" lengthAdjust="spacing" >Wavelength</text>
<text id="xb2" transform="translate(1191.20,587.80) scale(1.18,1)" font-size="33" textLength="69.32" lengthAdjust="spacing" >(nm)</text>
<text id="ya1" transform="translate(28.50,435.20) rotate(-90) scale(1.18,1)" font-size="33" textLength="126.43" lengthAdjust="spacing" >Intensity</text>
<text id="ya2" transform="translate(28.50,274.20) rotate(-90) scale(1.18,1)" font-size="33" textLength="155.93" lengthAdjust="spacing" >(arb. units)</text>
<text id="yb1" transform="translate(760.00,448.00) rotate(-90) scale(1.18,1)" font-size="33" textLength="156.27" lengthAdjust="spacing" >Absorption</text>
<text id="yb2" transform="translate(760.00,247.40) rotate(-90) scale(1.18,1)" font-size="33" textLength="157.63" lengthAdjust="spacing" >(arb. units)</text>
</g>
</svg>
</body>
</html>
